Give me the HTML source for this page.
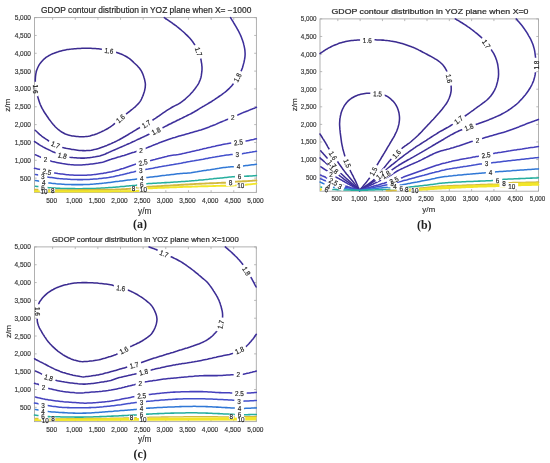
<!DOCTYPE html>
<html><head><meta charset="utf-8"><style>
html,body{margin:0;padding:0;background:#fff;}
svg{display:block;}
.cl{text-rendering:geometricPrecision;font-family:"Liberation Sans",sans-serif;fill:#262626;stroke:#262626;stroke-width:0.18px;}
</style></head><body>
<svg width="550" height="463" viewBox="0 0 550 463">
<rect width="550" height="463" fill="#fff"/>
<rect x="34.5" y="17.6" width="221.90" height="174.80" fill="none" stroke="#a8a8a8" stroke-width="0.9"/>
<path d="M52.61,192.4v-2.2M52.61,17.6v2.2M34.5,178.13h2.2M256.4,178.13h-2.2M75.26,192.4v-2.2M75.26,17.6v2.2M34.5,160.29h2.2M256.4,160.29h-2.2M97.90,192.4v-2.2M97.90,17.6v2.2M34.5,142.46h2.2M256.4,142.46h-2.2M120.54,192.4v-2.2M120.54,17.6v2.2M34.5,124.62h2.2M256.4,124.62h-2.2M143.19,192.4v-2.2M143.19,17.6v2.2M34.5,106.78h2.2M256.4,106.78h-2.2M165.83,192.4v-2.2M165.83,17.6v2.2M34.5,88.95h2.2M256.4,88.95h-2.2M188.47,192.4v-2.2M188.47,17.6v2.2M34.5,71.11h2.2M256.4,71.11h-2.2M211.11,192.4v-2.2M211.11,17.6v2.2M34.5,53.27h2.2M256.4,53.27h-2.2M233.76,192.4v-2.2M233.76,17.6v2.2M34.5,35.44h2.2M256.4,35.44h-2.2M256.40,192.4v-2.2M256.40,17.6v2.2M34.5,17.60h2.2M256.4,17.60h-2.2" stroke="#a8a8a8" stroke-width="0.8" fill="none"/>
<mask id="mA" maskUnits="userSpaceOnUse" x="0" y="0" width="550" height="463"><rect width="550" height="463" fill="#fff"/><rect x="101.77" y="47.56" width="14.46" height="6.48" transform="rotate(8 109.00 50.80)" fill="#000"/><rect x="113.27" y="115.36" width="14.46" height="6.48" transform="rotate(-40 120.50 118.60)" fill="#000"/><rect x="27.97" y="85.76" width="14.46" height="6.48" transform="rotate(90 35.20 89.00)" fill="#000"/><rect x="191.37" y="48.36" width="14.46" height="6.48" transform="rotate(72 198.60 51.60)" fill="#000"/><rect x="139.07" y="120.76" width="14.46" height="6.48" transform="rotate(-30 146.30 124.00)" fill="#000"/><rect x="48.27" y="141.46" width="14.46" height="6.48" transform="rotate(22 55.50 144.70)" fill="#000"/><rect x="230.37" y="74.36" width="14.46" height="6.48" transform="rotate(-62 237.60 77.60)" fill="#000"/><rect x="148.77" y="127.86" width="14.46" height="6.48" transform="rotate(-25 156.00 131.10)" fill="#000"/><rect x="55.17" y="152.36" width="14.46" height="6.48" transform="rotate(12 62.40 155.60)" fill="#000"/><rect x="228.14" y="113.96" width="9.13" height="6.48" transform="rotate(0 232.70 117.20)" fill="#000"/><rect x="136.54" y="147.26" width="9.13" height="6.48" transform="rotate(0 141.10 150.50)" fill="#000"/><rect x="41.04" y="155.96" width="9.13" height="6.48" transform="rotate(0 45.60 159.20)" fill="#000"/><rect x="231.17" y="139.06" width="14.46" height="6.48" transform="rotate(-8 238.40 142.30)" fill="#000"/><rect x="135.77" y="159.26" width="14.46" height="6.48" transform="rotate(-12 143.00 162.50)" fill="#000"/><rect x="39.77" y="168.46" width="14.46" height="6.48" transform="rotate(12 47.00 171.70)" fill="#000"/><rect x="232.74" y="151.26" width="9.13" height="6.48" transform="rotate(0 237.30 154.50)" fill="#000"/><rect x="136.14" y="167.26" width="9.13" height="6.48" transform="rotate(0 140.70 170.50)" fill="#000"/><rect x="38.14" y="173.06" width="9.13" height="6.48" transform="rotate(0 42.70 176.30)" fill="#000"/><rect x="233.84" y="163.36" width="9.13" height="6.48" transform="rotate(0 238.40 166.60)" fill="#000"/><rect x="137.14" y="175.16" width="9.13" height="6.48" transform="rotate(0 141.70 178.40)" fill="#000"/><rect x="39.14" y="179.16" width="9.13" height="6.48" transform="rotate(0 43.70 182.40)" fill="#000"/><rect x="234.94" y="173.36" width="9.13" height="6.48" transform="rotate(0 239.50 176.60)" fill="#000"/><rect x="137.14" y="181.06" width="9.13" height="6.48" transform="rotate(0 141.70 184.30)" fill="#000"/><rect x="38.44" y="183.96" width="9.13" height="6.48" transform="rotate(0 43.00 187.20)" fill="#000"/><rect x="225.94" y="179.26" width="9.13" height="6.48" transform="rotate(-5 230.50 182.50)" fill="#000"/><rect x="131.24" y="186.17" width="4.73" height="4.46" transform="rotate(0 133.60 188.40)" fill="#000"/><rect x="50.34" y="188.07" width="4.73" height="4.46" transform="rotate(0 52.70 190.30)" fill="#000"/><rect x="236.57" y="183.07" width="8.26" height="4.46" transform="rotate(0 240.70 185.30)" fill="#000"/><rect x="139.27" y="187.37" width="8.26" height="4.46" transform="rotate(0 143.40 189.60)" fill="#000"/><rect x="39.87" y="189.37" width="8.26" height="4.46" transform="rotate(0 44.00 191.60)" fill="#000"/></mask>
<g mask="url(#mA)"><path d="M35.3,84.0 35.3,82.5 35.3,81.0 35.3,79.5 35.4,78.0 35.5,76.5 35.7,75.0 35.9,73.5 36.2,72.1 36.6,70.6 37.1,69.2 37.7,67.8 38.3,66.5 39.0,65.1 39.8,63.9 40.7,62.7 41.7,61.5 42.7,60.4 43.7,59.3 44.9,58.4 46.0,57.4 47.3,56.6 48.6,55.8 49.9,55.1 51.2,54.4 52.6,53.8 54.0,53.3 55.4,52.7 56.8,52.2 58.2,51.8 59.7,51.3 61.1,50.9 62.5,50.5 64.0,50.2 65.5,49.9 67.0,49.6 68.4,49.4 69.9,49.2 71.4,49.1 72.9,48.9 74.4,48.8 75.9,48.7 77.4,48.6 78.9,48.5 80.4,48.4 81.9,48.3 83.4,48.3 84.9,48.2 86.4,48.2 87.9,48.2 89.4,48.2 90.9,48.3 92.4,48.4 93.9,48.5 95.4,48.6 96.9,48.7 98.4,48.8 99.9,49.0 101.4,49.2 102.8,49.4 104.3,49.7 105.8,50.1 107.2,50.4 108.7,50.7 110.2,51.0 111.6,51.3 113.1,51.6 114.6,51.9 116.0,52.3 117.5,52.7 118.9,53.2 120.3,53.8 121.7,54.3 123.0,54.9 124.4,55.6 125.7,56.3 127.0,57.0 128.3,57.9 129.5,58.7 130.7,59.7 131.8,60.6 132.9,61.6 134.0,62.7 135.1,63.7 136.2,64.7 137.3,65.8 138.3,66.9 139.3,68.0 140.2,69.2 141.0,70.4 141.7,71.7 142.4,73.1 143.0,74.5 143.5,75.9 143.9,77.3 144.4,78.8 144.7,80.2 145.0,81.7 145.3,83.2 145.4,84.6 145.3,86.1 145.2,87.6 144.9,89.1 144.6,90.6 144.2,92.0 143.7,93.4 143.3,94.9 142.7,96.3 142.1,97.6 141.5,99.0 140.8,100.3 140.0,101.6 139.1,102.8 138.1,103.9 137.0,105.0 136.0,106.0 134.9,107.1 133.7,108.0 132.6,109.0 131.4,109.9 130.2,110.9 129.0,111.8 127.9,112.7 126.7,113.6 125.5,114.6 124.3,115.5 123.2,116.4 122.0,117.4 120.8,118.3 119.7,119.3 118.5,120.3 117.4,121.3 116.3,122.2 115.1,123.2 114.0,124.1 112.8,125.1 111.6,126.0 110.4,126.9 109.1,127.7 107.8,128.5 106.5,129.2 105.2,129.9 103.9,130.6 102.5,131.2 101.2,131.9 99.8,132.5 98.4,133.1 97.0,133.7 95.6,134.2 94.2,134.7 92.8,135.1 91.3,135.5 89.9,135.9 88.4,136.2 86.9,136.4 85.4,136.6 83.9,136.7 82.4,136.8 80.9,136.8 79.4,136.7 77.9,136.6 76.4,136.5 75.0,136.3 73.5,136.1 72.0,135.9 70.5,135.6 69.1,135.2 67.6,134.8 66.2,134.3 64.8,133.7 63.5,133.0 62.2,132.3 60.9,131.5 59.7,130.6 58.5,129.7 57.4,128.7 56.3,127.7 55.2,126.7 54.2,125.6 53.2,124.5 52.2,123.3 51.3,122.1 50.4,120.9 49.5,119.7 48.6,118.5 47.8,117.3 46.9,116.0 46.1,114.8 45.2,113.5 44.4,112.3 43.6,111.0 42.9,109.7 42.1,108.4 41.5,107.1 40.8,105.7 40.2,104.3 39.7,102.9 39.2,101.5 38.7,100.1 38.3,98.6 37.9,97.2 37.5,95.8 37.1,94.3 36.7,92.9 36.3,91.4 36.0,89.9 35.7,88.5 35.5,87.0 35.4,85.5Z" fill="none" stroke="#3b2b90" stroke-width="1.55" stroke-linecap="round" stroke-linejoin="round"/>
<path d="M164.3,17.6 165.5,18.5 166.8,19.3 168.0,20.1 169.2,21.0 170.5,21.9 171.7,22.7 172.9,23.6 174.2,24.5 175.4,25.3 176.6,26.2 177.7,27.2 178.9,28.1 180.1,29.1 181.2,30.0 182.3,31.0 183.5,32.0 184.6,33.0 185.7,34.1 186.8,35.1 187.8,36.1 188.9,37.2 189.9,38.3 190.9,39.5 191.8,40.6 192.7,41.8 193.6,43.1 194.4,44.3 195.2,45.6 196.0,46.8 196.8,48.1 197.5,49.4 198.2,50.8 198.8,52.1 199.3,53.5 199.8,55.0 200.2,56.4 200.5,57.9 200.9,59.3 201.2,60.8 201.4,62.3 201.7,63.8 201.8,65.3 202.0,66.8 202.0,68.2 202.0,69.7 201.9,71.2 201.7,72.7 201.5,74.2 201.3,75.7 201.0,77.2 200.6,78.6 200.1,80.0 199.5,81.4 198.9,82.8 198.2,84.1 197.4,85.4 196.5,86.6 195.7,87.8 194.8,89.0 193.8,90.2 192.9,91.4 191.9,92.5 190.9,93.6 189.9,94.7 188.8,95.8 187.7,96.8 186.6,97.8 185.5,98.8 184.3,99.8 183.2,100.7 182.0,101.6 180.8,102.5 179.5,103.3 178.2,104.1 176.9,104.8 175.6,105.4 174.2,106.1 172.9,106.8 171.6,107.5 170.3,108.3 169.0,109.1 167.7,109.9 166.5,110.7 165.2,111.6 164.0,112.4 162.8,113.2 161.5,114.1 160.3,115.0 159.1,115.8 157.8,116.7 156.6,117.5 155.4,118.4 154.1,119.2 152.9,120.0 151.6,120.9 150.3,121.7 149.1,122.4 147.8,123.2 146.4,123.9 145.1,124.6 143.8,125.3 142.5,126.1 141.2,126.8 139.9,127.5 138.6,128.3 137.3,129.0 136.0,129.8 134.7,130.6 133.4,131.4 132.2,132.2 130.9,132.9 129.6,133.7 128.3,134.5 127.0,135.3 125.7,136.0 124.4,136.8 123.1,137.5 121.8,138.3 120.5,139.0 119.2,139.7 117.8,140.4 116.5,141.1 115.2,141.7 113.8,142.4 112.4,143.0 111.1,143.6 109.7,144.2 108.3,144.8 106.9,145.4 105.5,145.9 104.1,146.5 102.7,147.0 101.3,147.5 99.9,148.0 98.5,148.5 97.0,148.9 95.6,149.3 94.1,149.6 92.7,149.9 91.2,150.2 89.7,150.4 88.2,150.5 86.7,150.6 85.2,150.7 83.7,150.6 82.2,150.6 80.7,150.5 79.2,150.4 77.7,150.2 76.2,150.0 74.8,149.8 73.3,149.6 71.8,149.4 70.3,149.1 68.8,148.8 67.4,148.6 65.9,148.3 64.4,147.9 63.0,147.6 61.5,147.2 60.1,146.7 58.7,146.2 57.3,145.6 56.0,144.9 54.6,144.2 53.3,143.5 52.0,142.8 50.7,142.0 49.4,141.3 48.1,140.5 46.9,139.7 45.6,138.9 44.4,138.0 43.1,137.2 41.9,136.3 40.8,135.3 39.6,134.4 38.5,133.4 37.4,132.3 36.3,131.3 35.2,130.3" fill="none" stroke="#3c2d95" stroke-width="1.55" stroke-linecap="round" stroke-linejoin="round"/>
<path d="M230.5,17.6 231.3,18.9 232.1,20.2 232.9,21.4 233.6,22.7 234.4,24.0 235.2,25.3 236.0,26.6 236.7,27.9 237.4,29.2 238.2,30.5 238.9,31.8 239.5,33.2 240.2,34.5 240.8,35.9 241.4,37.3 241.9,38.7 242.4,40.1 242.9,41.5 243.4,42.9 243.7,44.4 244.1,45.9 244.4,47.3 244.7,48.8 244.9,50.3 245.0,51.8 245.1,53.3 245.1,54.8 245.0,56.3 244.8,57.8 244.6,59.2 244.3,60.7 244.0,62.2 243.6,63.6 243.2,65.1 242.8,66.5 242.4,68.0 241.8,69.4 241.3,70.7 240.6,72.1 240.0,73.4 239.2,74.8 238.5,76.1 237.7,77.4 237.0,78.6 236.2,79.9 235.3,81.2 234.4,82.4 233.5,83.6 232.6,84.7 231.6,85.9 230.6,87.0 229.6,88.1 228.5,89.1 227.4,90.1 226.3,91.1 225.1,92.1 223.9,93.0 222.7,93.9 221.5,94.8 220.3,95.6 219.0,96.5 217.8,97.3 216.6,98.2 215.3,99.0 214.1,99.9 212.8,100.7 211.6,101.5 210.3,102.3 209.0,103.0 207.7,103.8 206.4,104.6 205.1,105.3 203.8,106.1 202.5,106.8 201.2,107.6 199.9,108.4 198.7,109.2 197.4,110.0 196.1,110.8 194.8,111.5 193.5,112.3 192.2,113.0 190.9,113.7 189.5,114.4 188.2,115.0 186.8,115.7 185.5,116.4 184.2,117.0 182.8,117.7 181.5,118.4 180.1,119.0 178.8,119.7 177.4,120.3 176.1,121.0 174.7,121.7 173.4,122.3 172.0,123.0 170.7,123.7 169.3,124.3 168.0,125.0 166.7,125.7 165.3,126.4 164.0,127.1 162.7,127.8 161.3,128.5 160.0,129.2 158.7,129.8 157.3,130.5 156.0,131.1 154.6,131.7 153.2,132.4 151.8,133.0 150.5,133.6 149.1,134.2 147.8,134.8 146.4,135.5 145.0,136.1 143.7,136.8 142.3,137.4 141.0,138.0 139.6,138.7 138.2,139.3 136.9,139.9 135.5,140.6 134.2,141.2 132.8,141.8 131.4,142.5 130.1,143.1 128.7,143.7 127.3,144.3 126.0,144.9 124.6,145.5 123.2,146.1 121.8,146.7 120.5,147.3 119.1,147.9 117.7,148.5 116.3,149.1 114.9,149.7 113.6,150.3 112.2,150.9 110.8,151.5 109.4,152.1 108.1,152.7 106.7,153.3 105.4,154.0 104.0,154.6 102.6,155.1 101.1,155.5 99.7,155.9 98.2,156.2 96.7,156.5 95.3,156.8 93.8,157.0 92.3,157.3 90.8,157.5 89.3,157.7 87.8,157.8 86.3,158.0 84.8,158.1 83.3,158.1 81.8,158.1 80.3,158.1 78.8,158.0 77.3,158.0 75.9,157.8 74.4,157.7 72.9,157.6 71.4,157.4 69.9,157.3 68.4,157.1 66.9,156.8 65.4,156.5 64.0,156.1 62.6,155.6 61.2,155.1 59.8,154.6 58.4,154.1 57.0,153.5 55.6,152.9 54.2,152.3 52.8,151.7 51.5,151.1 50.1,150.4 48.8,149.8 47.4,149.1 46.1,148.5 44.7,147.8 43.4,147.1 42.1,146.3 40.8,145.6 39.5,144.8 38.3,144.0 37.0,143.1 35.8,142.3 34.5,141.5" fill="none" stroke="#3d2f9a" stroke-width="1.55" stroke-linecap="round" stroke-linejoin="round"/>
<path d="M256.4,107.3 255.0,107.9 253.6,108.4 252.2,109.0 250.8,109.5 249.4,110.1 248.0,110.7 246.7,111.2 245.3,111.8 243.9,112.3 242.5,112.9 241.1,113.5 239.7,114.1 238.3,114.7 237.0,115.3 235.6,115.9 234.2,116.5 232.9,117.1 231.5,117.7 230.1,118.3 228.7,118.9 227.3,119.4 225.9,120.0 224.5,120.6 223.2,121.1 221.8,121.7 220.4,122.3 219.0,122.9 217.6,123.5 216.3,124.1 214.9,124.7 213.5,125.2 212.1,125.8 210.7,126.3 209.3,126.9 207.9,127.4 206.5,127.9 205.1,128.4 203.7,128.9 202.2,129.4 200.8,129.9 199.4,130.3 197.9,130.8 196.5,131.2 195.1,131.6 193.6,132.0 192.2,132.4 190.7,132.8 189.3,133.3 187.8,133.7 186.4,134.1 185.0,134.5 183.5,134.9 182.1,135.3 180.6,135.7 179.2,136.1 177.7,136.5 176.3,136.9 174.9,137.4 173.4,137.8 172.0,138.3 170.6,138.7 169.1,139.2 167.7,139.7 166.3,140.2 164.9,140.7 163.5,141.2 162.1,141.7 160.7,142.3 159.3,142.8 157.9,143.4 156.5,143.9 155.1,144.5 153.7,145.0 152.3,145.6 150.9,146.2 149.5,146.7 148.2,147.3 146.8,147.9 145.4,148.5 144.0,149.0 142.6,149.6 141.3,150.2 139.9,150.6 138.4,150.9 137.0,151.3 135.5,151.7 134.1,152.2 132.7,152.6 131.2,153.1 129.8,153.5 128.4,154.0 126.9,154.5 125.5,154.9 124.1,155.4 122.7,155.8 121.2,156.2 119.8,156.7 118.3,157.1 116.9,157.5 115.5,158.0 114.0,158.4 112.6,158.8 111.2,159.3 109.7,159.7 108.3,160.2 106.9,160.7 105.5,161.3 104.1,161.8 102.6,162.2 101.2,162.5 99.7,162.8 98.2,163.1 96.8,163.3 95.3,163.5 93.8,163.7 92.3,163.9 90.8,164.1 89.3,164.3 87.8,164.5 86.3,164.6 84.8,164.7 83.3,164.8 81.8,164.9 80.3,164.9 78.8,165.0 77.3,165.0 75.8,164.9 74.3,164.9 72.8,164.8 71.4,164.7 69.9,164.6 68.4,164.4 66.9,164.2 65.4,164.0 63.9,163.8 62.4,163.6 60.9,163.3 59.5,163.0 58.0,162.7 56.5,162.4 55.1,162.1 53.6,161.7 52.2,161.4 50.7,161.0 49.3,160.5 47.9,160.0 46.5,159.5 45.0,159.0 43.7,158.4 42.3,157.8 40.9,157.2 39.5,156.6 38.2,156.0 36.8,155.4 35.4,154.8" fill="none" stroke="#3f33a5" stroke-width="1.55" stroke-linecap="round" stroke-linejoin="round"/>
<path d="M256.4,138.8 254.9,139.1 253.5,139.5 252.0,139.8 250.5,140.1 249.1,140.4 247.6,140.7 246.1,141.0 244.6,141.3 243.2,141.5 241.7,141.8 240.2,142.0 238.7,142.2 237.2,142.4 235.7,142.6 234.2,142.7 232.7,142.8 231.2,143.0 229.7,143.2 228.3,143.4 226.8,143.7 225.3,143.9 223.8,144.2 222.4,144.6 220.9,144.9 219.4,145.2 218.0,145.5 216.5,145.8 215.0,146.2 213.6,146.5 212.1,146.8 210.6,147.2 209.2,147.5 207.7,147.8 206.2,148.2 204.8,148.5 203.3,148.8 201.9,149.2 200.4,149.5 198.9,149.9 197.5,150.2 196.0,150.6 194.5,150.9 193.1,151.2 191.6,151.6 190.2,151.9 188.7,152.3 187.2,152.6 185.8,152.9 184.3,153.3 182.8,153.6 181.4,153.9 179.9,154.2 178.4,154.5 176.9,154.7 175.4,154.9 174.0,155.1 172.5,155.3 171.0,155.5 169.5,155.8 168.0,156.1 166.6,156.5 165.1,156.8 163.7,157.2 162.2,157.6 160.8,157.9 159.3,158.3 157.8,158.7 156.4,159.1 154.9,159.5 153.5,159.8 152.0,160.2 150.6,160.6 149.1,160.9 147.7,161.3 146.2,161.7 144.7,162.1 143.3,162.4 141.8,162.7 140.4,163.0 138.9,163.3 137.4,163.7 136.0,164.0 134.5,164.5 133.1,164.9 131.7,165.4 130.2,165.9 128.8,166.4 127.4,166.9 126.0,167.4 124.6,167.9 123.2,168.4 121.7,168.8 120.3,169.3 118.9,169.8 117.4,170.2 116.0,170.6 114.5,171.0 113.1,171.3 111.6,171.7 110.1,172.0 108.7,172.3 107.2,172.6 105.7,172.9 104.2,173.1 102.8,173.4 101.3,173.6 99.8,173.8 98.3,174.0 96.8,174.2 95.3,174.4 93.8,174.6 92.3,174.7 90.8,174.9 89.3,175.0 87.8,175.1 86.3,175.2 84.8,175.2 83.3,175.3 81.8,175.3 80.3,175.3 78.8,175.3 77.3,175.3 75.8,175.3 74.3,175.2 72.8,175.1 71.3,175.0 69.8,174.9 68.3,174.8 66.8,174.7 65.3,174.5 63.9,174.3 62.4,174.1 60.9,173.9 59.4,173.7 57.9,173.5 56.4,173.2 54.9,173.0 53.5,172.8 52.0,172.6 50.5,172.4 49.0,172.1 47.5,171.8 46.1,171.4 44.6,171.0 43.2,170.5 41.8,170.0 40.4,169.6 38.9,169.2 37.4,168.9 36.0,168.6 34.5,168.3" fill="none" stroke="#4540bd" stroke-width="1.55" stroke-linecap="round" stroke-linejoin="round"/>
<path d="M256.4,151.3 254.9,151.6 253.4,151.8 252.0,152.1 250.5,152.3 249.0,152.6 247.5,152.8 246.0,153.1 244.6,153.3 243.1,153.6 241.6,153.9 240.1,154.1 238.6,154.3 237.1,154.5 235.6,154.5 234.1,154.5 232.6,154.5 231.1,154.6 229.6,154.7 228.1,154.9 226.7,155.1 225.2,155.3 223.7,155.6 222.2,155.8 220.7,156.0 219.2,156.3 217.8,156.5 216.3,156.8 214.8,157.1 213.3,157.3 211.8,157.6 210.4,157.8 208.9,158.1 207.4,158.4 205.9,158.6 204.4,158.9 203.0,159.2 201.5,159.4 200.0,159.7 198.5,160.0 197.0,160.2 195.6,160.5 194.1,160.8 192.6,161.0 191.1,161.3 189.7,161.6 188.2,161.8 186.7,162.1 185.2,162.4 183.7,162.6 182.3,162.9 180.8,163.2 179.3,163.4 177.8,163.7 176.3,163.9 174.9,164.2 173.4,164.5 171.9,164.7 170.4,165.0 168.9,165.3 167.5,165.5 166.0,165.8 164.5,166.0 163.0,166.3 161.5,166.6 160.1,166.8 158.6,167.1 157.1,167.4 155.6,167.6 154.1,167.9 152.7,168.2 151.2,168.4 149.7,168.7 148.2,169.0 146.8,169.2 145.3,169.5 143.8,169.8 142.3,170.1 140.9,170.4 139.4,170.7 137.9,170.9 136.4,171.2 135.0,171.5 133.5,171.9 132.0,172.2 130.6,172.6 129.1,173.0 127.7,173.3 126.2,173.7 124.8,174.1 123.3,174.4 121.8,174.8 120.4,175.1 118.9,175.5 117.4,175.8 116.0,176.1 114.5,176.4 113.0,176.7 111.5,176.9 110.1,177.2 108.6,177.5 107.1,177.7 105.6,177.9 104.1,178.1 102.6,178.3 101.1,178.5 99.6,178.6 98.1,178.8 96.6,178.9 95.2,179.0 93.7,179.1 92.2,179.2 90.7,179.3 89.2,179.4 87.6,179.4 86.1,179.5 84.6,179.5 83.1,179.6 81.6,179.6 80.1,179.6 78.6,179.6 77.1,179.6 75.6,179.5 74.1,179.5 72.6,179.4 71.1,179.4 69.6,179.3 68.1,179.2 66.6,179.1 65.1,179.0 63.6,178.9 62.1,178.8 60.6,178.7 59.1,178.6 57.6,178.4 56.1,178.2 54.7,178.0 53.2,177.8 51.7,177.6 50.2,177.4 48.7,177.2 47.2,177.0 45.7,176.8 44.2,176.6 42.8,176.3 41.3,175.9 39.9,175.5 38.4,175.1 37.0,174.8 35.5,174.5" fill="none" stroke="#4350cc" stroke-width="1.55" stroke-linecap="round" stroke-linejoin="round"/>
<path d="M256.4,164.3 254.9,164.5 253.4,164.7 251.9,164.8 250.4,165.0 248.9,165.2 247.5,165.4 246.0,165.6 244.5,165.8 243.0,166.0 241.5,166.2 240.0,166.4 238.5,166.6 237.0,166.6 235.5,166.7 234.0,166.7 232.5,166.7 231.0,166.8 229.5,166.9 228.1,167.1 226.6,167.2 225.1,167.4 223.6,167.6 222.1,167.8 220.6,168.0 219.1,168.3 217.7,168.5 216.2,168.7 214.7,169.0 213.2,169.2 211.7,169.4 210.2,169.7 208.8,169.9 207.3,170.1 205.8,170.4 204.3,170.6 202.8,170.8 201.3,171.1 199.9,171.3 198.4,171.5 196.9,171.8 195.4,172.0 193.9,172.2 192.4,172.4 191.0,172.7 189.5,172.9 188.0,173.0 186.5,173.2 185.0,173.2 183.5,173.3 182.0,173.4 180.5,173.5 179.0,173.7 177.5,173.8 176.0,174.0 174.6,174.2 173.1,174.4 171.6,174.5 170.1,174.7 168.6,174.9 167.1,175.1 165.6,175.3 164.1,175.4 162.6,175.6 161.1,175.8 159.7,176.0 158.2,176.2 156.7,176.4 155.2,176.5 153.7,176.7 152.2,176.9 150.7,177.1 149.2,177.3 147.7,177.5 146.3,177.6 144.8,177.8 143.4,178.0 142.2,178.3 141.1,178.5 139.8,178.6 138.4,178.8 136.9,179.0 135.4,179.2 133.9,179.4 132.4,179.6 130.9,179.7 129.5,179.9 128.0,180.1 126.5,180.3 125.0,180.5 123.5,180.7 122.0,180.9 120.5,181.1 119.0,181.3 117.5,181.4 116.1,181.6 114.6,181.8 113.1,182.0 111.6,182.2 110.1,182.4 108.6,182.5 107.1,182.7 105.6,182.9 104.1,183.1 102.6,183.2 101.1,183.4 99.7,183.5 98.2,183.7 96.7,183.8 95.2,183.9 93.7,184.1 92.2,184.2 90.7,184.3 89.2,184.4 87.7,184.4 86.2,184.5 84.7,184.5 83.2,184.6 81.7,184.6 80.2,184.6 78.7,184.6 77.2,184.6 75.7,184.6 74.2,184.6 72.7,184.6 71.2,184.6 69.7,184.5 68.2,184.5 66.7,184.4 65.2,184.4 63.7,184.3 62.2,184.2 60.7,184.1 59.2,184.0 57.7,183.9 56.2,183.8 54.7,183.6 53.2,183.4 51.7,183.3 50.2,183.1 48.7,182.9 47.3,182.8 45.8,182.6 44.3,182.4 42.8,182.1 41.4,181.7 39.9,181.4 38.4,181.1 37.0,180.8 35.5,180.6" fill="none" stroke="#3078d6" stroke-width="1.55" stroke-linecap="round" stroke-linejoin="round"/>
<path d="M256.4,175.6 254.9,175.7 253.4,175.8 251.9,175.9 250.4,176.0 248.9,176.1 247.4,176.1 245.9,176.2 244.4,176.3 242.9,176.4 241.4,176.5 239.9,176.6 238.4,176.6 236.9,176.6 235.4,176.6 233.9,176.7 232.4,176.8 230.9,177.0 229.4,177.1 227.9,177.2 226.4,177.4 224.9,177.5 223.5,177.7 222.0,177.9 220.5,178.0 219.0,178.2 217.5,178.3 216.0,178.5 214.5,178.6 213.0,178.8 211.5,178.9 210.0,179.1 208.5,179.3 207.0,179.4 205.5,179.6 204.0,179.7 202.6,179.9 201.1,180.0 199.6,180.1 198.1,180.3 196.6,180.4 195.1,180.6 193.6,180.7 192.1,180.8 190.6,180.9 189.1,181.1 187.6,181.2 186.1,181.3 184.6,181.4 183.1,181.5 181.6,181.6 180.1,181.7 178.6,181.8 177.1,181.9 175.6,182.0 174.1,182.1 172.6,182.2 171.1,182.3 169.6,182.4 168.1,182.5 166.6,182.6 165.1,182.6 163.6,182.7 162.1,182.8 160.6,182.9 159.1,183.0 157.6,183.1 156.1,183.2 154.6,183.3 153.1,183.3 151.6,183.4 150.1,183.5 148.6,183.6 147.1,183.7 145.7,183.8 144.2,183.9 142.8,184.0 141.9,184.2 141.2,184.5 140.2,184.8 138.8,185.0 137.3,185.1 135.8,185.3 134.3,185.4 132.8,185.5 131.3,185.7 129.8,185.8 128.4,186.0 126.9,186.1 125.4,186.2 123.9,186.4 122.4,186.5 120.9,186.6 119.4,186.8 117.9,186.9 116.4,187.0 114.9,187.2 113.4,187.3 111.9,187.4 110.4,187.5 108.9,187.6 107.4,187.7 105.9,187.8 104.4,187.9 102.9,188.0 101.4,188.1 99.9,188.2 98.4,188.3 96.9,188.3 95.4,188.4 93.9,188.4 92.4,188.5 90.9,188.5 89.4,188.6 87.9,188.6 86.4,188.6 84.9,188.6 83.4,188.6 81.9,188.7 80.4,188.7 78.9,188.7 77.4,188.7 75.9,188.7 74.4,188.6 72.9,188.6 71.4,188.6 69.9,188.6 68.4,188.6 66.9,188.6 65.4,188.5 63.9,188.5 62.4,188.5 60.9,188.4 59.4,188.3 57.9,188.3 56.4,188.2 54.9,188.1 53.4,188.0 51.9,187.9 50.4,187.8 48.9,187.7 47.4,187.6 45.9,187.5 44.4,187.4 42.9,187.2 41.4,187.0 40.0,186.8 38.5,186.6 37.0,186.4 35.5,186.2" fill="none" stroke="#26ae9e" stroke-width="1.55" stroke-linecap="round" stroke-linejoin="round"/>
<path d="M256.4,180.4 254.9,180.5 253.4,180.6 251.9,180.8 250.4,180.9 248.9,181.0 247.4,181.1 245.9,181.2 244.4,181.3 242.9,181.3 241.4,181.4 239.9,181.5 238.4,181.5 236.9,181.6 235.4,181.7 233.9,181.9 232.4,182.1 231.0,182.2 229.5,182.4 228.0,182.5 226.5,182.6 225.0,182.7 223.5,182.7 222.0,182.8 220.5,182.9 219.0,182.9 217.5,183.0 216.0,183.1 214.5,183.1 213.0,183.2 211.5,183.2 210.0,183.3 208.5,183.4 207.0,183.4 205.5,183.5 204.0,183.6 202.5,183.6 201.0,183.7 199.5,183.8 198.0,183.9 196.5,183.9 195.0,184.0 193.5,184.1 192.0,184.2 190.5,184.3 189.0,184.4 187.5,184.5 186.0,184.5 184.5,184.6 183.0,184.7 181.5,184.8 180.0,184.9 178.5,185.0 177.0,185.1 175.5,185.2 174.0,185.3 172.5,185.4 171.0,185.5 169.5,185.6 168.0,185.7 166.5,185.8 165.0,185.8 163.5,185.9 162.0,186.0 160.5,186.1 159.0,186.2 157.5,186.3 156.0,186.4 154.5,186.4 153.0,186.5 151.5,186.6 150.0,186.7 148.5,186.8 147.0,186.9 145.5,187.0 144.0,187.1 142.5,187.2 141.0,187.3 139.5,187.4 138.0,187.5 136.5,187.6 135.2,187.9 133.9,188.2 132.5,188.5 131.1,188.6 129.6,188.8 128.1,188.9 126.6,189.0 125.1,189.1 123.6,189.2 122.1,189.3 120.6,189.4 119.1,189.4 117.6,189.5 116.1,189.5 114.6,189.6 113.1,189.6 111.6,189.6 110.1,189.7 108.6,189.7 107.1,189.7 105.6,189.7 104.1,189.7 102.6,189.8 101.1,189.8 99.6,189.8 98.1,189.8 96.6,189.8 95.1,189.9 93.6,189.9 92.1,189.9 90.5,189.9 89.0,189.9 87.5,190.0 86.0,190.0 84.5,190.0 83.0,190.0 81.5,190.0 80.0,190.0 78.5,190.0 77.0,190.1 75.5,190.1 74.0,190.1 72.5,190.1 71.0,190.1 69.5,190.1 68.0,190.1 66.5,190.2 65.0,190.2 63.5,190.2 62.0,190.2 60.5,190.2 59.0,190.2 57.5,190.2 56.0,190.2 54.5,190.2 53.0,190.2 51.5,190.2 50.0,190.2 48.5,190.1 47.0,190.1 45.5,190.1 44.0,190.0 42.5,190.0 41.0,189.9 39.5,189.9 38.0,189.8 36.5,189.8 35.0,189.7" fill="none" stroke="#d2b940" stroke-width="1.9" stroke-linecap="round" stroke-linejoin="round"/>
<path d="M256.4,183.6 254.9,183.8 253.4,183.9 251.9,184.1 250.4,184.3 248.9,184.4 247.4,184.5 245.9,184.7 244.4,184.7 243.0,184.8 241.6,184.9 240.2,185.1 238.9,185.2 237.5,185.3 236.0,185.4 234.5,185.4 233.0,185.5 231.5,185.5 230.0,185.6 228.5,185.6 227.0,185.7 225.5,185.7 224.0,185.7 222.5,185.8 221.0,185.8 219.5,185.9 218.0,185.9 216.5,185.9 215.0,186.0 213.5,186.0 212.0,186.1 210.5,186.1 209.0,186.1 207.5,186.2 206.0,186.2 204.5,186.3 203.0,186.3 201.5,186.3 200.0,186.4 198.5,186.4 197.0,186.5 195.5,186.5 194.0,186.6 192.5,186.6 191.0,186.7 189.5,186.7 188.0,186.8 186.5,186.8 185.0,186.9 183.5,186.9 182.0,187.0 180.5,187.0 179.0,187.1 177.5,187.1 176.0,187.2 174.5,187.3 173.0,187.3 171.5,187.4 170.0,187.4 168.5,187.5 167.0,187.5 165.5,187.6 164.0,187.7 162.5,187.7 161.0,187.8 159.5,187.8 158.0,187.9 156.5,188.0 155.0,188.0 153.5,188.1 152.0,188.2 150.5,188.2 149.0,188.3 147.5,188.4 146.0,188.5 144.6,188.7 143.6,189.1 142.6,189.6 141.4,190.1 140.0,190.5 138.5,190.7 137.1,190.9 135.6,191.0 134.1,191.1 132.6,191.2 131.1,191.2 129.6,191.3 128.1,191.3 126.6,191.3 125.1,191.3 123.6,191.4 122.1,191.4 120.6,191.4 119.1,191.4 117.6,191.4 116.1,191.4 114.6,191.4 113.1,191.4 111.6,191.4 110.1,191.5 108.6,191.5 107.1,191.5 105.6,191.5 104.0,191.5 102.5,191.5 101.0,191.5 99.5,191.5 98.0,191.5 96.5,191.5 95.0,191.5 93.5,191.5 92.0,191.5 90.5,191.5 89.0,191.5 87.5,191.5 86.0,191.5 84.5,191.5 83.0,191.5 81.5,191.5 80.0,191.5 78.5,191.5 77.0,191.5 75.5,191.5 74.0,191.5 72.5,191.5 71.0,191.5 69.5,191.5 68.0,191.5 66.5,191.5 65.0,191.5 63.5,191.5 62.0,191.5 60.5,191.5 59.0,191.5 57.5,191.5 56.0,191.5 54.5,191.5 53.0,191.5 51.5,191.5 50.0,191.5 48.5,191.5 47.0,191.5 45.5,191.5 44.0,191.5 42.5,191.5 41.0,191.4 39.5,191.4 38.0,191.4 36.5,191.4 35.0,191.4" fill="none" stroke="#f2e629" stroke-width="1.9" stroke-linecap="round" stroke-linejoin="round"/>
<path d="M34.5,190.6 L140,190.6 L150,191.8 L34.5,191.8Z" fill="#f2e629"/></g>
<text x="109.00" y="53.39" transform="rotate(8 109.00 50.80)" text-anchor="middle" font-size="7.2" textLength="8.86" lengthAdjust="spacingAndGlyphs" class="cl">1.6</text><text x="120.50" y="121.19" transform="rotate(-40 120.50 118.60)" text-anchor="middle" font-size="7.2" textLength="8.86" lengthAdjust="spacingAndGlyphs" class="cl">1.6</text><text x="35.20" y="91.59" transform="rotate(90 35.20 89.00)" text-anchor="middle" font-size="7.2" textLength="8.86" lengthAdjust="spacingAndGlyphs" class="cl">1.6</text><text x="198.60" y="54.19" transform="rotate(72 198.60 51.60)" text-anchor="middle" font-size="7.2" textLength="8.86" lengthAdjust="spacingAndGlyphs" class="cl">1.7</text><text x="146.30" y="126.59" transform="rotate(-30 146.30 124.00)" text-anchor="middle" font-size="7.2" textLength="8.86" lengthAdjust="spacingAndGlyphs" class="cl">1.7</text><text x="55.50" y="147.29" transform="rotate(22 55.50 144.70)" text-anchor="middle" font-size="7.2" textLength="8.86" lengthAdjust="spacingAndGlyphs" class="cl">1.7</text><text x="237.60" y="80.19" transform="rotate(-62 237.60 77.60)" text-anchor="middle" font-size="7.2" textLength="8.86" lengthAdjust="spacingAndGlyphs" class="cl">1.8</text><text x="156.00" y="133.69" transform="rotate(-25 156.00 131.10)" text-anchor="middle" font-size="7.2" textLength="8.86" lengthAdjust="spacingAndGlyphs" class="cl">1.8</text><text x="62.40" y="158.19" transform="rotate(12 62.40 155.60)" text-anchor="middle" font-size="7.2" textLength="8.86" lengthAdjust="spacingAndGlyphs" class="cl">1.8</text><text x="232.70" y="119.79" transform="rotate(0 232.70 117.20)" text-anchor="middle" font-size="7.2" textLength="3.53" lengthAdjust="spacingAndGlyphs" class="cl">2</text><text x="141.10" y="153.09" transform="rotate(0 141.10 150.50)" text-anchor="middle" font-size="7.2" textLength="3.53" lengthAdjust="spacingAndGlyphs" class="cl">2</text><text x="45.60" y="161.79" transform="rotate(0 45.60 159.20)" text-anchor="middle" font-size="7.2" textLength="3.53" lengthAdjust="spacingAndGlyphs" class="cl">2</text><text x="238.40" y="144.89" transform="rotate(-8 238.40 142.30)" text-anchor="middle" font-size="7.2" textLength="8.86" lengthAdjust="spacingAndGlyphs" class="cl">2.5</text><text x="143.00" y="165.09" transform="rotate(-12 143.00 162.50)" text-anchor="middle" font-size="7.2" textLength="8.86" lengthAdjust="spacingAndGlyphs" class="cl">2.5</text><text x="47.00" y="174.29" transform="rotate(12 47.00 171.70)" text-anchor="middle" font-size="7.2" textLength="8.86" lengthAdjust="spacingAndGlyphs" class="cl">2.5</text><text x="237.30" y="157.09" transform="rotate(0 237.30 154.50)" text-anchor="middle" font-size="7.2" textLength="3.53" lengthAdjust="spacingAndGlyphs" class="cl">3</text><text x="140.70" y="173.09" transform="rotate(0 140.70 170.50)" text-anchor="middle" font-size="7.2" textLength="3.53" lengthAdjust="spacingAndGlyphs" class="cl">3</text><text x="42.70" y="178.89" transform="rotate(0 42.70 176.30)" text-anchor="middle" font-size="7.2" textLength="3.53" lengthAdjust="spacingAndGlyphs" class="cl">3</text><text x="238.40" y="169.19" transform="rotate(0 238.40 166.60)" text-anchor="middle" font-size="7.2" textLength="3.53" lengthAdjust="spacingAndGlyphs" class="cl">4</text><text x="141.70" y="180.99" transform="rotate(0 141.70 178.40)" text-anchor="middle" font-size="7.2" textLength="3.53" lengthAdjust="spacingAndGlyphs" class="cl">4</text><text x="43.70" y="184.99" transform="rotate(0 43.70 182.40)" text-anchor="middle" font-size="7.2" textLength="3.53" lengthAdjust="spacingAndGlyphs" class="cl">4</text><text x="239.50" y="179.19" transform="rotate(0 239.50 176.60)" text-anchor="middle" font-size="7.2" textLength="3.53" lengthAdjust="spacingAndGlyphs" class="cl">6</text><text x="141.70" y="186.89" transform="rotate(0 141.70 184.30)" text-anchor="middle" font-size="7.2" textLength="3.53" lengthAdjust="spacingAndGlyphs" class="cl">6</text><text x="43.00" y="189.79" transform="rotate(0 43.00 187.20)" text-anchor="middle" font-size="7.2" textLength="3.53" lengthAdjust="spacingAndGlyphs" class="cl">6</text><text x="230.50" y="185.09" transform="rotate(-5 230.50 182.50)" text-anchor="middle" font-size="7.2" textLength="3.53" lengthAdjust="spacingAndGlyphs" class="cl">8</text><text x="133.60" y="190.99" transform="rotate(0 133.60 188.40)" text-anchor="middle" font-size="7.2" textLength="3.53" lengthAdjust="spacingAndGlyphs" class="cl">8</text><text x="52.70" y="192.89" transform="rotate(0 52.70 190.30)" text-anchor="middle" font-size="7.2" textLength="3.53" lengthAdjust="spacingAndGlyphs" class="cl">8</text><text x="240.70" y="187.89" transform="rotate(0 240.70 185.30)" text-anchor="middle" font-size="7.2" textLength="7.06" lengthAdjust="spacingAndGlyphs" class="cl">10</text><text x="143.40" y="192.19" transform="rotate(0 143.40 189.60)" text-anchor="middle" font-size="7.2" textLength="7.06" lengthAdjust="spacingAndGlyphs" class="cl">10</text><text x="44.00" y="194.19" transform="rotate(0 44.00 191.60)" text-anchor="middle" font-size="7.2" textLength="7.06" lengthAdjust="spacingAndGlyphs" class="cl">10</text>
<g font-family="Liberation Sans, sans-serif" font-size="7.1" fill="#383838" stroke="#383838" stroke-width="0.18"><text x="51.61" y="202.60" text-anchor="middle" textLength="10.90" lengthAdjust="spacingAndGlyphs">500</text><text x="31.00" y="180.67" text-anchor="end" textLength="10.90" lengthAdjust="spacingAndGlyphs">500</text><text x="74.26" y="202.60" text-anchor="middle" textLength="16.34" lengthAdjust="spacingAndGlyphs">1,000</text><text x="31.00" y="162.84" text-anchor="end" textLength="16.34" lengthAdjust="spacingAndGlyphs">1,000</text><text x="96.90" y="202.60" text-anchor="middle" textLength="16.34" lengthAdjust="spacingAndGlyphs">1,500</text><text x="31.00" y="145.00" text-anchor="end" textLength="16.34" lengthAdjust="spacingAndGlyphs">1,500</text><text x="119.54" y="202.60" text-anchor="middle" textLength="16.34" lengthAdjust="spacingAndGlyphs">2,000</text><text x="31.00" y="127.16" text-anchor="end" textLength="16.34" lengthAdjust="spacingAndGlyphs">2,000</text><text x="142.19" y="202.60" text-anchor="middle" textLength="16.34" lengthAdjust="spacingAndGlyphs">2,500</text><text x="31.00" y="109.33" text-anchor="end" textLength="16.34" lengthAdjust="spacingAndGlyphs">2,500</text><text x="164.83" y="202.60" text-anchor="middle" textLength="16.34" lengthAdjust="spacingAndGlyphs">3,000</text><text x="31.00" y="91.49" text-anchor="end" textLength="16.34" lengthAdjust="spacingAndGlyphs">3,000</text><text x="187.47" y="202.60" text-anchor="middle" textLength="16.34" lengthAdjust="spacingAndGlyphs">3,500</text><text x="31.00" y="73.65" text-anchor="end" textLength="16.34" lengthAdjust="spacingAndGlyphs">3,500</text><text x="210.11" y="202.60" text-anchor="middle" textLength="16.34" lengthAdjust="spacingAndGlyphs">4,000</text><text x="31.00" y="55.82" text-anchor="end" textLength="16.34" lengthAdjust="spacingAndGlyphs">4,000</text><text x="232.76" y="202.60" text-anchor="middle" textLength="16.34" lengthAdjust="spacingAndGlyphs">4,500</text><text x="31.00" y="37.98" text-anchor="end" textLength="16.34" lengthAdjust="spacingAndGlyphs">4,500</text><text x="255.40" y="202.60" text-anchor="middle" textLength="16.34" lengthAdjust="spacingAndGlyphs">5,000</text><text x="31.00" y="20.14" text-anchor="end" textLength="16.34" lengthAdjust="spacingAndGlyphs">5,000</text></g>
<text x="146.2" y="13.1" font-family="Liberation Sans, sans-serif" font-size="8.4" fill="#2b2b2b" stroke="#2b2b2b" stroke-width="0.22" text-anchor="middle" textLength="210.3" lengthAdjust="spacingAndGlyphs">GDOP contour distribution in YOZ plane when X= −1000</text>
<text x="144.7" y="213.6" font-family="Liberation Sans, sans-serif" font-size="8.3" fill="#333" stroke="#333" stroke-width="0.15" text-anchor="middle">y/m</text>
<text transform="translate(10.1,105.3) rotate(-90)" font-family="Liberation Sans, sans-serif" font-size="8.1" fill="#333" stroke="#333" stroke-width="0.15" text-anchor="middle">z/m</text>
<text x="140" y="228" font-family="Liberation Serif, serif" font-weight="bold" font-size="12" fill="#222" text-anchor="middle">(a)</text>
<rect x="320.0" y="18.9" width="218.50" height="172.30" fill="none" stroke="#a8a8a8" stroke-width="0.9"/>
<path d="M337.84,191.2v-2.2M337.84,18.9v2.2M320.0,177.13h2.2M538.5,177.13h-2.2M360.13,191.2v-2.2M360.13,18.9v2.2M320.0,159.55h2.2M538.5,159.55h-2.2M382.43,191.2v-2.2M382.43,18.9v2.2M320.0,141.97h2.2M538.5,141.97h-2.2M404.72,191.2v-2.2M404.72,18.9v2.2M320.0,124.39h2.2M538.5,124.39h-2.2M427.02,191.2v-2.2M427.02,18.9v2.2M320.0,106.81h2.2M538.5,106.81h-2.2M449.32,191.2v-2.2M449.32,18.9v2.2M320.0,89.23h2.2M538.5,89.23h-2.2M471.61,191.2v-2.2M471.61,18.9v2.2M320.0,71.64h2.2M538.5,71.64h-2.2M493.91,191.2v-2.2M493.91,18.9v2.2M320.0,54.06h2.2M538.5,54.06h-2.2M516.20,191.2v-2.2M516.20,18.9v2.2M320.0,36.48h2.2M538.5,36.48h-2.2M538.50,191.2v-2.2M538.50,18.9v2.2M320.0,18.90h2.2M538.5,18.90h-2.2" stroke="#a8a8a8" stroke-width="0.8" fill="none"/>
<mask id="mB" maskUnits="userSpaceOnUse" x="0" y="0" width="550" height="463"><rect width="550" height="463" fill="#fff"/><rect x="360.07" y="36.76" width="14.46" height="6.48" transform="rotate(0 367.30 40.00)" fill="#000"/><rect x="441.97" y="75.26" width="14.46" height="6.48" transform="rotate(78 449.20 78.50)" fill="#000"/><rect x="389.37" y="150.76" width="14.46" height="6.48" transform="rotate(-48 396.60 154.00)" fill="#000"/><rect x="325.77" y="152.36" width="14.46" height="6.48" transform="rotate(57 333.00 155.60)" fill="#000"/><rect x="370.27" y="90.56" width="14.46" height="6.48" transform="rotate(3 377.50 93.80)" fill="#000"/><rect x="339.97" y="160.06" width="14.46" height="6.48" transform="rotate(68 347.20 163.30)" fill="#000"/><rect x="366.17" y="168.26" width="14.46" height="6.48" transform="rotate(-62 373.40 171.50)" fill="#000"/><rect x="479.17" y="40.76" width="14.46" height="6.48" transform="rotate(55 486.40 44.00)" fill="#000"/><rect x="451.37" y="116.76" width="14.46" height="6.48" transform="rotate(-35 458.60 120.00)" fill="#000"/><rect x="373.27" y="171.96" width="14.46" height="6.48" transform="rotate(-40 380.50 175.20)" fill="#000"/><rect x="324.77" y="160.96" width="14.46" height="6.48" transform="rotate(48 332.00 164.20)" fill="#000"/><rect x="528.77" y="61.76" width="14.46" height="6.48" transform="rotate(-90 536.00 65.00)" fill="#000"/><rect x="461.77" y="123.86" width="14.46" height="6.48" transform="rotate(-22 469.00 127.10)" fill="#000"/><rect x="378.77" y="171.36" width="14.46" height="6.48" transform="rotate(-35 386.00 174.60)" fill="#000"/><rect x="326.77" y="166.26" width="14.46" height="6.48" transform="rotate(42 334.00 169.50)" fill="#000"/><rect x="472.84" y="136.76" width="9.13" height="6.48" transform="rotate(0 477.40 140.00)" fill="#000"/><rect x="326.44" y="171.06" width="9.13" height="6.48" transform="rotate(0 331.00 174.30)" fill="#000"/><rect x="478.77" y="151.76" width="14.46" height="6.48" transform="rotate(-8 486.00 155.00)" fill="#000"/><rect x="386.77" y="176.96" width="14.46" height="6.48" transform="rotate(-25 394.00 180.20)" fill="#000"/><rect x="326.27" y="178.56" width="14.46" height="6.48" transform="rotate(28 333.50 181.80)" fill="#000"/><rect x="481.94" y="160.06" width="9.13" height="6.48" transform="rotate(0 486.50 163.30)" fill="#000"/><rect x="387.44" y="180.56" width="9.13" height="6.48" transform="rotate(0 392.00 183.80)" fill="#000"/><rect x="335.44" y="183.16" width="9.13" height="6.48" transform="rotate(25 340.00 186.40)" fill="#000"/><rect x="485.84" y="169.16" width="9.13" height="6.48" transform="rotate(0 490.40 172.40)" fill="#000"/><rect x="390.44" y="183.06" width="9.13" height="6.48" transform="rotate(0 395.00 186.30)" fill="#000"/><rect x="323.94" y="183.16" width="9.13" height="6.48" transform="rotate(20 328.50 186.40)" fill="#000"/><rect x="493.04" y="176.96" width="9.13" height="6.48" transform="rotate(0 497.60 180.20)" fill="#000"/><rect x="396.74" y="185.36" width="9.13" height="6.48" transform="rotate(0 401.30 188.60)" fill="#000"/><rect x="321.94" y="186.36" width="9.13" height="6.48" transform="rotate(10 326.50 189.60)" fill="#000"/><rect x="499.44" y="180.56" width="9.13" height="6.48" transform="rotate(0 504.00 183.80)" fill="#000"/><rect x="404.44" y="187.37" width="4.73" height="4.46" transform="rotate(0 406.80 189.60)" fill="#000"/><rect x="505.47" y="182.96" width="12.66" height="6.48" transform="rotate(0 511.80 186.20)" fill="#000"/><rect x="410.77" y="187.87" width="8.26" height="4.46" transform="rotate(0 414.90 190.10)" fill="#000"/></mask>
<g mask="url(#mB)"><path d="M320.0,53.6 321.2,52.7 322.5,51.9 323.7,51.0 325.0,50.2 326.2,49.4 327.5,48.7 328.8,47.9 330.2,47.2 331.5,46.5 332.8,45.9 334.2,45.3 335.6,44.7 337.0,44.2 338.4,43.6 339.8,43.1 341.3,42.7 342.7,42.3 344.1,41.9 345.6,41.5 347.1,41.2 348.6,41.0 350.0,40.8 351.5,40.6 353.0,40.4 354.5,40.3 356.0,40.2 357.5,40.1 359.0,40.0 360.5,40.0 362.0,40.0 363.5,40.0 365.0,40.0 366.5,40.0 368.0,40.0 369.5,39.9 371.0,39.9 372.5,39.8 374.0,39.8 375.5,39.8 377.0,39.9 378.5,39.9 380.0,40.0 381.5,40.1 383.0,40.1 384.5,40.3 386.0,40.4 387.5,40.6 389.0,40.7 390.5,41.0 391.9,41.2 393.4,41.5 394.9,41.8 396.4,42.1 397.8,42.4 399.3,42.8 400.7,43.2 402.2,43.6 403.6,44.0 405.1,44.4 406.5,44.9 407.9,45.4 409.3,45.9 410.7,46.4 412.1,47.0 413.5,47.5 414.9,48.1 416.2,48.8 417.6,49.4 418.9,50.1 420.3,50.8 421.6,51.5 422.9,52.2 424.3,52.9 425.6,53.6 426.9,54.3 428.2,55.0 429.6,55.7 430.9,56.4 432.2,57.1 433.5,57.9 434.8,58.7 436.1,59.4 437.3,60.2 438.6,61.1 439.8,62.0 440.9,63.0 442.0,64.0 443.0,65.1 443.9,66.3 444.8,67.5 445.6,68.8 446.3,70.1 446.9,71.5 447.4,72.9 447.9,74.3 448.4,75.7 448.8,77.2 449.2,78.6 449.7,80.0 450.1,81.5 450.5,82.9 450.9,84.4 451.1,85.9 451.2,87.4 451.2,88.8 451.2,90.3 451.0,91.8 450.7,93.3 450.4,94.8 449.9,96.2 449.4,97.6 448.8,99.0 448.2,100.3 447.5,101.7 446.7,103.0 445.9,104.2 445.0,105.4 444.1,106.6 443.2,107.8 442.3,109.0 441.3,110.2 440.4,111.3 439.4,112.5 438.4,113.6 437.4,114.7 436.4,115.8 435.4,116.9 434.4,118.1 433.4,119.2 432.3,120.3 431.3,121.3 430.3,122.4 429.3,123.5 428.2,124.6 427.2,125.7 426.2,126.8 425.1,127.9 424.1,129.0 423.1,130.1 422.1,131.2 421.1,132.3 420.0,133.4 418.9,134.4 417.9,135.5 416.8,136.5 415.7,137.5 414.6,138.5 413.4,139.5 412.3,140.5 411.2,141.5 410.0,142.5 408.8,143.4 407.6,144.2 406.4,145.1 405.1,145.9 403.9,146.8 402.7,147.7 401.6,148.7 400.6,149.8 399.5,150.9 398.5,152.0 397.5,153.1 396.4,154.1 395.3,155.2 394.2,156.2 393.1,157.2 392.0,158.3 391.0,159.3 390.0,160.5 389.0,161.6 388.1,162.8 387.1,163.9 386.2,165.1 385.3,166.3 384.3,167.4 383.4,168.6 382.4,169.8 381.5,170.9 380.5,172.1 379.6,173.3 378.6,174.4 377.6,175.5 376.6,176.7 375.7,177.8 374.6,178.9 373.6,180.0 372.6,181.1 371.5,182.1 370.3,183.1 369.2,184.0 368.0,184.9 366.8,185.8 365.5,186.6 364.3,187.5 363.0,188.3 361.7,189.1 360.4,189.9" fill="none" stroke="#3b2b90" stroke-width="1.55" stroke-linecap="round" stroke-linejoin="round"/>
<path d="M359.6,190.4 358.7,189.2 357.8,188.0 356.9,186.8 356.0,185.6 355.1,184.4 354.2,183.2 353.3,182.0 352.3,180.8 351.4,179.7 350.4,178.5 349.5,177.4 348.5,176.3 347.5,175.1 346.5,174.0 345.6,172.8 344.7,171.6 343.8,170.4 342.9,169.2 342.0,167.9 341.2,166.7 340.3,165.5 339.4,164.3 338.6,163.1 337.7,161.8 336.8,160.6 335.9,159.4 335.0,158.3 334.1,157.1 333.2,155.8 332.4,154.6 331.6,153.3 330.8,152.0 330.1,150.7 329.3,149.4 328.6,148.1 327.8,146.8 327.1,145.5 326.3,144.2 325.6,142.9 324.8,141.6 324.0,140.3 323.2,139.1 322.4,137.8 321.6,136.5 320.8,135.3 320.0,134.0" fill="none" stroke="#3b2b90" stroke-width="1.55" stroke-linecap="round" stroke-linejoin="round"/>
<path d="M359.6,190.4 359.0,189.0 358.4,187.6 357.8,186.3 357.2,184.9 356.6,183.5 356.0,182.1 355.4,180.8 354.7,179.4 354.0,178.1 353.4,176.7 352.7,175.4 352.0,174.1 351.3,172.7 350.6,171.4 350.0,170.0 349.4,168.7 348.8,167.3 348.2,165.9 347.7,164.5 347.1,163.1 346.6,161.7 346.1,160.3 345.7,158.8 345.2,157.4 344.8,155.9 344.4,154.5 344.0,153.1 343.6,151.6 343.2,150.2 342.8,148.7 342.5,147.2 342.2,145.8 341.9,144.3 341.6,142.8 341.4,141.3 341.2,139.8 341.0,138.4 340.8,136.9 340.6,135.4 340.4,133.9 340.2,132.4 340.1,130.9 339.9,129.4 339.8,127.9 339.7,126.4 339.6,124.9 339.6,123.4 339.7,121.9 339.8,120.4 339.9,118.9 340.2,117.4 340.4,116.0 340.8,114.5 341.1,113.0 341.6,111.6 342.1,110.2 342.7,108.8 343.4,107.5 344.1,106.2 344.9,104.9 345.8,103.7 346.7,102.5 347.7,101.4 348.8,100.4 350.0,99.4 351.2,98.5 352.4,97.7 353.7,97.0 355.1,96.3 356.4,95.7 357.8,95.1 359.3,94.7 360.7,94.3 362.2,94.0 363.7,93.7 365.1,93.5 366.6,93.3 368.1,93.2 369.6,93.2 371.1,93.2 372.6,93.3 374.1,93.4 375.6,93.6 377.1,93.8 378.6,94.0 380.1,94.2 381.6,94.4 383.0,94.7 384.5,95.1 385.9,95.7 387.2,96.4 388.4,97.2 389.7,98.1 390.8,99.0 391.9,100.1 393.0,101.1 394.0,102.2 394.9,103.4 395.7,104.7 396.5,106.0 397.2,107.3 397.7,108.7 398.2,110.1 398.6,111.5 399.0,113.0 399.2,114.5 399.4,116.0 399.5,117.5 399.5,119.0 399.4,120.5 399.2,122.0 399.0,123.4 398.7,124.9 398.3,126.4 397.9,127.8 397.4,129.2 396.9,130.6 396.3,132.0 395.6,133.4 395.0,134.7 394.3,136.1 393.6,137.4 392.8,138.7 392.0,140.0 391.3,141.2 390.5,142.5 389.7,143.8 389.0,145.1 388.2,146.4 387.4,147.7 386.7,149.0 385.9,150.3 385.1,151.6 384.4,152.9 383.6,154.2 382.8,155.5 382.0,156.7 381.3,158.0 380.5,159.3 379.7,160.6 378.9,161.9 378.2,163.2 377.4,164.5 376.6,165.8 375.9,167.1 375.2,168.4 374.4,169.7 373.7,171.0 372.9,172.3 372.2,173.6 371.4,174.9 370.7,176.2 369.9,177.5 369.0,178.7 368.1,179.9 367.2,181.1 366.3,182.3 365.3,183.4 364.4,184.6 363.4,185.8 362.5,186.9 361.5,188.1 360.6,189.2 359.6,190.4" fill="none" stroke="#3b2b90" stroke-width="1.55" stroke-linecap="round" stroke-linejoin="round"/>
<path d="M455.3,18.9 456.6,19.7 457.9,20.4 459.2,21.2 460.5,22.0 461.8,22.7 463.0,23.5 464.3,24.3 465.6,25.2 466.8,26.0 468.0,26.9 469.3,27.7 470.5,28.6 471.7,29.5 472.9,30.4 474.1,31.3 475.2,32.3 476.4,33.2 477.6,34.2 478.7,35.1 479.9,36.1 481.0,37.1 482.0,38.2 483.0,39.3 483.9,40.5 484.8,41.7 485.7,43.0 486.6,44.2 487.5,45.3 488.5,46.5 489.5,47.6 490.5,48.7 491.4,49.9 492.2,51.2 493.0,52.4 493.8,53.7 494.5,55.1 495.1,56.4 495.7,57.8 496.2,59.2 496.7,60.6 497.1,62.1 497.5,63.5 497.8,65.0 498.0,66.5 498.2,68.0 498.4,69.5 498.5,71.0 498.5,72.5 498.6,74.0 498.5,75.5 498.4,77.0 498.2,78.5 497.9,79.9 497.6,81.4 497.2,82.9 496.8,84.3 496.4,85.7 495.9,87.2 495.3,88.5 494.7,89.9 494.0,91.2 493.2,92.5 492.4,93.8 491.5,95.0 490.6,96.2 489.6,97.3 488.6,98.4 487.5,99.5 486.4,100.5 485.2,101.4 484.0,102.3 482.8,103.2 481.6,104.1 480.4,105.0 479.2,105.9 478.0,106.7 476.7,107.6 475.5,108.5 474.3,109.4 473.1,110.3 471.9,111.1 470.7,112.0 469.5,112.9 468.2,113.8 467.0,114.7 465.8,115.5 464.5,116.4 463.3,117.2 462.0,118.0 460.7,118.7 459.4,119.5 458.2,120.3 456.9,121.2 455.7,122.1 454.5,123.0 453.3,123.9 452.1,124.7 450.8,125.5 449.5,126.3 448.2,127.1 446.9,127.8 445.6,128.5 444.3,129.2 443.0,130.0 441.6,130.7 440.3,131.4 439.0,132.2 437.7,133.0 436.5,133.8 435.2,134.6 433.9,135.4 432.7,136.2 431.4,137.0 430.1,137.8 428.9,138.6 427.6,139.4 426.4,140.3 425.1,141.1 423.8,141.9 422.6,142.7 421.3,143.5 420.0,144.3 418.8,145.1 417.5,145.9 416.2,146.7 415.0,147.6 413.7,148.4 412.5,149.3 411.3,150.1 410.0,151.0 408.8,151.9 407.6,152.8 406.4,153.6 405.2,154.5 404.0,155.4 402.8,156.4 401.6,157.3 400.4,158.2 399.2,159.1 398.0,160.0 396.9,161.0 395.7,161.9 394.5,162.8 393.3,163.8 392.1,164.7 391.0,165.6 389.8,166.6 388.7,167.5 387.5,168.5 386.4,169.5 385.3,170.5 384.2,171.6 383.2,172.7 382.2,173.8 381.0,174.7 379.9,175.7 378.7,176.6 377.5,177.5 376.3,178.4 375.0,179.3 373.8,180.2 372.6,181.0 371.4,181.9 370.2,182.8 369.0,183.7 367.7,184.6 366.5,185.4 365.3,186.3 364.1,187.2 362.9,188.1 361.6,188.9 360.4,189.8" fill="none" stroke="#3c2d95" stroke-width="1.55" stroke-linecap="round" stroke-linejoin="round"/>
<path d="M359.6,190.4 358.5,189.4 357.4,188.4 356.3,187.4 355.1,186.4 354.0,185.4 352.9,184.3 351.8,183.3 350.7,182.3 349.6,181.3 348.5,180.3 347.4,179.3 346.2,178.3 345.1,177.3 344.0,176.2 342.9,175.2 341.8,174.2 340.7,173.2 339.6,172.1 338.6,171.1 337.5,170.1 336.4,169.0 335.4,167.9 334.4,166.8 333.3,165.7 332.3,164.6 331.4,163.4 330.5,162.2 329.5,161.0 328.6,159.9 327.7,158.7 326.7,157.6 325.7,156.4 324.7,155.3 323.7,154.2 322.7,153.1 321.7,152.0 320.7,150.8" fill="none" stroke="#3c2d95" stroke-width="1.55" stroke-linecap="round" stroke-linejoin="round"/>
<path d="M516.3,18.9 517.3,20.0 518.2,21.2 519.2,22.3 520.2,23.5 521.1,24.6 522.1,25.8 523.0,27.0 523.9,28.2 524.7,29.4 525.6,30.7 526.4,31.9 527.2,33.2 528.0,34.5 528.7,35.8 529.5,37.1 530.2,38.4 530.9,39.7 531.5,41.1 532.1,42.5 532.7,43.9 533.2,45.3 533.6,46.7 534.0,48.1 534.4,49.6 534.7,51.1 534.9,52.5 535.1,54.0 535.3,55.5 535.5,57.0 535.6,58.5 535.8,60.0 535.9,61.5 535.9,63.0 536.0,64.5 536.0,66.0 535.9,67.5 535.9,69.0 535.7,70.5 535.5,72.0 535.3,73.4 535.1,74.9 534.8,76.4 534.4,77.9 534.0,79.3 533.6,80.7 533.0,82.1 532.4,83.5 531.8,84.8 531.1,86.2 530.4,87.5 529.6,88.8 528.8,90.0 528.0,91.3 527.1,92.5 526.2,93.7 525.3,94.9 524.3,96.0 523.3,97.2 522.4,98.3 521.4,99.4 520.3,100.5 519.3,101.6 518.2,102.7 517.1,103.7 516.0,104.7 514.8,105.6 513.6,106.5 512.4,107.4 511.2,108.3 510.0,109.2 508.7,110.0 507.5,110.8 506.2,111.6 504.9,112.4 503.6,113.1 502.3,113.8 501.0,114.5 499.6,115.2 498.3,115.8 496.9,116.4 495.5,117.0 494.1,117.6 492.7,118.2 491.4,118.8 490.0,119.3 488.6,119.9 487.2,120.4 485.8,121.0 484.4,121.5 483.0,122.0 481.6,122.5 480.2,123.0 478.7,123.5 477.3,124.1 475.9,124.6 474.5,125.1 473.1,125.6 471.7,126.1 470.3,126.6 468.9,127.1 467.5,127.6 466.0,128.1 464.6,128.6 463.2,129.2 461.8,129.7 460.4,130.3 459.1,130.8 457.7,131.5 456.3,132.1 455.0,132.8 453.7,133.5 452.4,134.2 451.0,134.9 449.7,135.7 448.4,136.4 447.1,137.2 445.8,137.9 444.6,138.7 443.3,139.5 442.0,140.2 440.7,141.0 439.4,141.7 438.1,142.5 436.8,143.2 435.5,144.0 434.2,144.8 432.9,145.5 431.6,146.3 430.3,147.1 429.0,147.8 427.7,148.6 426.5,149.3 425.2,150.1 423.9,150.9 422.6,151.6 421.3,152.4 420.0,153.1 418.7,153.9 417.4,154.6 416.1,155.4 414.8,156.1 413.5,156.9 412.2,157.6 410.9,158.3 409.5,159.1 408.2,159.8 406.9,160.5 405.6,161.3 404.3,162.0 403.0,162.7 401.7,163.5 400.4,164.3 399.1,165.0 397.9,165.8 396.6,166.6 395.4,167.5 394.1,168.3 392.9,169.2 391.7,170.0 390.4,170.9 389.2,171.8 388.0,172.7 386.8,173.5 385.5,174.3 384.2,175.1 383.0,175.9 381.7,176.7 380.4,177.5 379.2,178.3 377.9,179.1 376.6,179.9 375.3,180.7 374.1,181.4 372.8,182.2 371.5,183.0 370.2,183.8 369.0,184.6 367.7,185.4 366.4,186.2 365.1,187.0 363.9,187.8 362.6,188.6 361.3,189.3 360.0,190.1" fill="none" stroke="#3d2f9a" stroke-width="1.55" stroke-linecap="round" stroke-linejoin="round"/>
<path d="M359.6,190.4 358.4,189.5 357.2,188.6 355.9,187.7 354.7,186.9 353.5,186.0 352.2,185.1 351.0,184.2 349.8,183.3 348.6,182.4 347.3,181.5 346.1,180.7 344.9,179.8 343.7,178.9 342.5,177.9 341.3,177.0 340.1,176.1 339.0,175.1 337.9,174.0 336.9,172.9 335.9,171.8 334.9,170.6 333.9,169.5 332.8,168.5 331.6,167.5 330.4,166.6 329.2,165.7 328.1,164.8 326.9,163.8 325.7,162.8 324.6,161.8 323.4,160.9 322.3,159.9 321.1,158.9 320.0,157.9" fill="none" stroke="#3d2f9a" stroke-width="1.55" stroke-linecap="round" stroke-linejoin="round"/>
<path d="M538.4,119.4 537.0,119.9 535.6,120.4 534.2,121.0 532.8,121.5 531.4,122.0 530.0,122.6 528.6,123.1 527.2,123.6 525.8,124.1 524.4,124.7 523.0,125.2 521.6,125.8 520.2,126.3 518.8,126.9 517.4,127.4 516.0,128.0 514.6,128.5 513.2,129.0 511.8,129.6 510.4,130.1 509.0,130.6 507.5,131.1 506.1,131.6 504.7,132.0 503.2,132.4 501.8,132.8 500.3,133.2 498.9,133.6 497.4,134.0 496.0,134.4 494.6,134.8 493.1,135.3 491.7,135.7 490.2,136.1 488.8,136.5 487.3,136.9 485.9,137.3 484.5,137.7 483.0,138.2 481.6,138.6 480.2,139.1 478.7,139.5 477.3,140.0 475.9,140.3 474.4,140.7 473.0,141.2 471.5,141.6 470.1,142.1 468.7,142.6 467.3,143.0 465.8,143.5 464.4,144.0 463.0,144.4 461.6,144.9 460.1,145.4 458.7,145.9 457.3,146.3 455.9,146.8 454.4,147.2 453.0,147.7 451.6,148.1 450.1,148.6 448.7,149.0 447.2,149.3 445.8,149.7 444.3,150.1 442.9,150.4 441.4,150.8 440.0,151.2 438.6,151.7 437.2,152.2 435.8,152.8 434.4,153.4 433.0,154.0 431.7,154.7 430.3,155.3 429.0,156.0 427.6,156.7 426.3,157.4 425.0,158.0 423.6,158.7 422.3,159.4 420.9,160.1 419.6,160.7 418.2,161.4 416.9,162.0 415.5,162.6 414.1,163.2 412.8,163.8 411.4,164.4 410.0,165.0 408.6,165.6 407.3,166.3 405.9,166.9 404.5,167.5 403.2,168.1 401.8,168.7 400.5,169.4 399.1,170.1 397.8,170.8 396.5,171.5 395.2,172.3 394.0,173.1 392.7,173.9 391.4,174.8 390.2,175.6 388.9,176.3 387.6,177.0 386.2,177.7 384.9,178.3 383.5,179.0 382.2,179.6 380.8,180.3 379.5,180.9 378.1,181.6 376.8,182.2 375.4,182.9 374.1,183.5 372.7,184.2 371.3,184.8 370.0,185.5 368.6,186.1 367.3,186.7 365.9,187.4 364.6,188.0 363.2,188.7 361.9,189.3 360.5,190.0" fill="none" stroke="#3f33a5" stroke-width="1.55" stroke-linecap="round" stroke-linejoin="round"/>
<path d="M359.6,190.4 358.3,189.7 357.0,188.9 355.6,188.2 354.3,187.4 353.0,186.7 351.7,185.9 350.4,185.2 349.1,184.4 347.7,183.7 346.4,182.9 345.1,182.2 343.8,181.4 342.5,180.7 341.2,179.9 339.8,179.2 338.5,178.4 337.2,177.7 335.9,177.0 334.5,176.2 333.2,175.5 331.9,174.8 330.6,173.9 329.5,173.0 328.3,172.0 327.2,171.0 325.9,170.1 324.7,169.3 323.4,168.5 322.1,167.6 320.9,166.8" fill="none" stroke="#3f33a5" stroke-width="1.55" stroke-linecap="round" stroke-linejoin="round"/>
<path d="M538.4,146.5 536.9,146.7 535.4,146.9 533.9,147.2 532.5,147.4 531.0,147.6 529.5,147.8 528.0,148.1 526.5,148.3 525.0,148.5 523.6,148.7 522.1,149.0 520.6,149.2 519.1,149.4 517.6,149.6 516.1,149.9 514.7,150.1 513.2,150.3 511.7,150.5 510.2,150.8 508.7,151.0 507.2,151.2 505.8,151.5 504.3,151.7 502.8,151.9 501.3,152.2 499.8,152.4 498.3,152.6 496.9,152.9 495.4,153.1 493.9,153.4 492.4,153.6 491.0,153.9 489.5,154.2 488.0,154.6 486.5,154.9 485.1,155.1 483.6,155.4 482.1,155.6 480.6,155.9 479.1,156.1 477.7,156.4 476.2,156.6 474.7,156.9 473.2,157.1 471.8,157.4 470.3,157.7 468.8,157.9 467.3,158.2 465.8,158.5 464.4,158.7 462.9,159.0 461.4,159.3 459.9,159.6 458.5,159.9 457.0,160.2 455.5,160.5 454.1,160.8 452.6,161.1 451.1,161.5 449.7,161.8 448.2,162.2 446.8,162.5 445.3,162.9 443.9,163.2 442.4,163.6 441.0,164.0 439.5,164.5 438.1,164.9 436.6,165.3 435.2,165.8 433.8,166.3 432.4,166.8 431.0,167.3 429.5,167.8 428.1,168.3 426.7,168.8 425.3,169.3 423.9,169.8 422.5,170.3 421.1,170.8 419.6,171.3 418.2,171.8 416.8,172.3 415.4,172.8 414.0,173.3 412.6,173.8 411.2,174.3 409.8,174.8 408.3,175.3 406.9,175.8 405.5,176.3 404.1,176.8 402.7,177.4 401.3,177.9 399.9,178.3 398.4,178.8 397.0,179.3 395.6,179.7 394.1,180.2 392.7,180.6 391.3,181.0 389.8,181.4 388.4,181.9 386.9,182.3 385.5,182.7 384.1,183.2 382.6,183.6 381.2,184.0 379.7,184.4 378.3,184.9 376.9,185.3 375.4,185.7 374.0,186.1 372.6,186.6 371.1,187.0 369.7,187.4 368.2,187.8 366.8,188.3 365.4,188.7 363.9,189.1 362.5,189.5 361.0,190.0 359.6,190.4" fill="none" stroke="#4540bd" stroke-width="1.55" stroke-linecap="round" stroke-linejoin="round"/>
<path d="M359.6,190.4 358.2,189.9 356.7,189.5 355.3,189.0 353.8,188.6 352.4,188.1 351.0,187.7 349.5,187.2 348.1,186.8 346.7,186.3 345.2,185.9 343.8,185.4 342.4,184.9 340.9,184.5 339.5,184.0 338.1,183.5 336.6,183.0 335.2,182.4 333.9,181.8 332.5,181.2 331.2,180.5 329.9,179.8 328.6,179.0 327.3,178.2 325.9,177.5 324.6,176.8 323.2,176.2 321.8,175.6 320.5,175.0" fill="none" stroke="#4540bd" stroke-width="1.55" stroke-linecap="round" stroke-linejoin="round"/>
<path d="M538.4,157.5 536.9,157.7 535.4,157.8 533.9,158.0 532.4,158.2 530.9,158.3 529.4,158.5 527.9,158.7 526.5,158.8 525.0,159.0 523.5,159.2 522.0,159.3 520.5,159.5 519.0,159.7 517.5,159.8 516.0,160.0 514.5,160.2 513.0,160.3 511.5,160.5 510.0,160.7 508.5,160.8 507.0,161.0 505.5,161.2 504.1,161.3 502.6,161.5 501.1,161.7 499.6,161.9 498.1,162.0 496.6,162.2 495.1,162.4 493.6,162.5 492.1,162.7 490.6,162.9 489.1,163.0 487.8,163.2 486.6,163.3 485.6,163.3 484.4,163.5 483.0,163.6 481.5,163.9 480.0,164.1 478.5,164.3 477.0,164.5 475.5,164.8 474.0,165.0 472.6,165.2 471.1,165.5 469.6,165.7 468.1,165.9 466.6,166.2 465.1,166.4 463.7,166.6 462.2,166.9 460.7,167.1 459.2,167.4 457.7,167.6 456.2,167.9 454.8,168.1 453.3,168.3 451.8,168.6 450.3,168.8 448.8,169.1 447.4,169.3 445.9,169.6 444.4,170.0 442.9,170.3 441.5,170.6 440.0,171.0 438.6,171.4 437.1,171.7 435.6,172.1 434.2,172.5 432.7,172.8 431.3,173.2 429.8,173.6 428.4,174.0 426.9,174.4 425.5,174.8 424.0,175.2 422.6,175.5 421.1,175.9 419.7,176.3 418.2,176.7 416.8,177.1 415.3,177.5 413.9,177.9 412.4,178.3 411.0,178.7 409.5,179.1 408.1,179.5 406.6,179.9 405.2,180.2 403.7,180.6 402.3,181.0 400.8,181.4 399.4,181.8 397.9,182.2 396.5,182.6 395.2,183.0 394.2,183.3 393.2,183.5 391.9,183.8 390.5,184.1 389.1,184.4 387.6,184.7 386.1,185.0 384.6,185.3 383.2,185.6 381.7,185.9 380.2,186.2 378.7,186.5 377.3,186.8 375.8,187.1 374.3,187.4 372.9,187.7 371.4,188.0 369.9,188.3 368.4,188.6 367.0,188.9 365.5,189.2 364.0,189.5 362.5,189.8 361.1,190.1 359.6,190.4" fill="none" stroke="#4350cc" stroke-width="1.55" stroke-linecap="round" stroke-linejoin="round"/>
<path d="M359.6,190.4 358.1,190.1 356.6,189.8 355.2,189.4 353.7,189.1 352.2,188.8 350.7,188.5 349.2,188.1 347.8,187.8 346.3,187.5 344.8,187.2 343.3,186.8 341.8,186.5 340.4,186.2 338.9,185.7 337.5,185.3 336.0,184.7 334.6,184.2 333.2,183.6 331.8,183.1 330.4,182.6 329.0,182.0 327.6,181.5 326.1,180.9 324.7,180.4 323.3,179.9 321.9,179.3 320.5,178.8" fill="none" stroke="#4350cc" stroke-width="1.55" stroke-linecap="round" stroke-linejoin="round"/>
<path d="M538.4,168.9 536.9,169.0 535.4,169.1 533.9,169.2 532.4,169.3 530.9,169.4 529.4,169.5 527.9,169.6 526.4,169.7 524.9,169.8 523.4,169.9 521.9,170.0 520.4,170.1 518.9,170.2 517.4,170.3 515.9,170.4 514.4,170.5 512.9,170.6 511.4,170.8 509.9,170.9 508.5,171.0 507.0,171.1 505.5,171.2 504.0,171.3 502.5,171.4 501.0,171.5 499.5,171.6 498.0,171.7 496.5,171.8 495.0,171.9 493.5,172.0 492.1,172.1 490.8,172.3 489.7,172.4 488.3,172.5 486.9,172.7 485.4,172.8 483.9,172.9 482.4,173.0 480.9,173.2 479.4,173.3 477.9,173.4 476.4,173.5 474.9,173.7 473.4,173.8 471.9,173.9 470.4,174.1 468.9,174.2 467.4,174.3 465.9,174.5 464.4,174.6 463.0,174.7 461.5,174.9 460.0,175.0 458.5,175.1 457.0,175.3 455.5,175.4 454.0,175.6 452.5,175.8 451.0,175.9 449.5,176.1 448.0,176.3 446.5,176.4 445.0,176.6 443.6,176.8 442.1,177.0 440.6,177.2 439.1,177.5 437.6,177.8 436.2,178.1 434.7,178.5 433.3,178.8 431.8,179.1 430.3,179.4 428.8,179.7 427.4,180.0 425.9,180.3 424.4,180.6 423.0,180.8 421.5,181.1 420.0,181.4 418.5,181.7 417.1,182.0 415.6,182.2 414.1,182.5 412.6,182.8 411.2,183.1 409.7,183.4 408.2,183.6 406.7,183.9 405.3,184.2 403.8,184.5 402.3,184.8 400.8,185.0 399.4,185.3 398.2,185.7 397.1,185.9 395.8,186.2 394.4,186.4 392.9,186.6 391.4,186.7 389.9,186.9 388.4,187.1 386.9,187.3 385.4,187.4 384.0,187.6 382.5,187.8 381.0,188.0 379.5,188.1 378.0,188.3 376.5,188.5 375.0,188.6 373.5,188.8 372.0,189.0 370.5,189.2 369.0,189.3 367.6,189.5 366.1,189.7 364.6,189.8 363.1,190.0 361.6,190.2 360.1,190.3" fill="none" stroke="#3078d6" stroke-width="1.55" stroke-linecap="round" stroke-linejoin="round"/>
<path d="M359.6,190.4 358.1,190.2 356.6,190.0 355.1,189.9 353.6,189.7 352.1,189.5 350.6,189.3 349.1,189.2 347.6,189.0 346.1,188.8 344.6,188.6 343.1,188.5 341.6,188.3 340.1,188.1 338.6,187.9 337.1,187.7 335.6,187.5 334.1,187.4 332.6,187.1 331.1,186.8 329.7,186.3 328.3,185.8 326.9,185.2 325.5,184.6 324.1,183.9 322.7,183.3 321.4,182.6 320.0,182.0" fill="none" stroke="#3078d6" stroke-width="1.55" stroke-linecap="round" stroke-linejoin="round"/>
<path d="M538.4,177.8 536.9,177.9 535.4,177.9 533.9,178.0 532.4,178.1 530.9,178.1 529.4,178.2 527.9,178.2 526.4,178.3 524.9,178.4 523.4,178.4 521.9,178.5 520.4,178.6 518.9,178.6 517.4,178.7 515.9,178.7 514.4,178.8 512.9,178.9 511.4,178.9 509.9,179.0 508.4,179.1 506.9,179.2 505.4,179.2 503.9,179.3 502.4,179.4 500.9,179.5 499.4,179.7 498.1,180.0 496.7,180.2 495.3,180.4 493.8,180.5 492.3,180.6 490.8,180.7 489.3,180.7 487.8,180.8 486.3,180.8 484.8,180.9 483.3,181.0 481.8,181.0 480.3,181.1 478.8,181.1 477.3,181.2 475.8,181.2 474.3,181.3 472.8,181.4 471.3,181.4 469.8,181.5 468.3,181.5 466.8,181.6 465.3,181.7 463.8,181.7 462.3,181.8 460.8,181.9 459.3,181.9 457.8,182.0 456.3,182.1 454.8,182.2 453.3,182.3 451.8,182.4 450.3,182.5 448.8,182.6 447.3,182.7 445.8,182.8 444.3,182.9 442.8,183.0 441.3,183.2 439.8,183.3 438.3,183.5 436.8,183.8 435.3,184.0 433.8,184.2 432.4,184.4 430.9,184.6 429.4,184.8 427.9,185.0 426.4,185.2 424.9,185.3 423.4,185.5 421.9,185.7 420.4,185.8 418.9,186.0 417.4,186.2 415.9,186.3 414.4,186.5 412.9,186.7 411.4,186.8 410.0,187.0 408.5,187.2 407.0,187.4 405.5,187.6 404.0,187.9 402.6,188.2 401.1,188.6 399.6,188.8 398.1,188.9 396.6,189.0 395.1,189.1 393.6,189.2 392.1,189.2 390.6,189.3 389.1,189.3 387.6,189.4 386.1,189.4 384.6,189.5 383.1,189.6 381.6,189.6 380.1,189.7 378.6,189.7 377.1,189.8 375.6,189.8 374.1,189.9 372.6,189.9 371.1,190.0 369.6,190.0 368.1,190.1 366.6,190.1 365.1,190.2 363.6,190.3 362.1,190.3 360.6,190.4" fill="none" stroke="#26ae9e" stroke-width="1.55" stroke-linecap="round" stroke-linejoin="round"/>
<path d="M359.6,190.4 358.1,190.3 356.6,190.3 355.1,190.2 353.6,190.2 352.1,190.1 350.6,190.1 349.1,190.0 347.6,190.0 346.1,189.9 344.6,189.9 343.0,189.8 341.5,189.8 340.0,189.7 338.5,189.7 337.0,189.6 335.5,189.6 334.0,189.5 332.5,189.5 331.0,189.4 329.5,189.4 328.0,189.3 326.6,189.0 325.2,188.6 323.7,188.1 322.3,187.5 320.9,187.0" fill="none" stroke="#26ae9e" stroke-width="1.55" stroke-linecap="round" stroke-linejoin="round"/>
<path d="M538.4,182.3 536.9,182.3 535.4,182.4 533.9,182.4 532.4,182.4 530.9,182.5 529.4,182.5 527.9,182.5 526.4,182.5 524.9,182.6 523.4,182.6 521.9,182.6 520.4,182.7 518.9,182.7 517.4,182.7 515.9,182.8 514.4,182.8 512.9,182.8 511.4,182.9 509.9,182.9 508.4,183.0 507.0,183.1 505.8,183.3 504.6,183.6 503.3,183.8 501.8,183.9 500.3,184.0 498.8,184.1 497.3,184.2 495.8,184.2 494.3,184.3 492.8,184.4 491.3,184.4 489.8,184.5 488.3,184.5 486.8,184.6 485.3,184.7 483.8,184.7 482.3,184.8 480.8,184.8 479.3,184.9 477.8,185.0 476.3,185.0 474.8,185.1 473.3,185.1 471.8,185.2 470.3,185.2 468.8,185.3 467.3,185.3 465.8,185.4 464.3,185.4 462.8,185.5 461.3,185.6 459.8,185.6 458.3,185.7 456.8,185.7 455.3,185.8 453.8,185.8 452.3,185.9 450.8,185.9 449.3,186.0 447.8,186.0 446.3,186.1 444.8,186.1 443.3,186.2 441.8,186.3 440.3,186.4 438.8,186.5 437.3,186.6 435.8,186.7 434.3,186.9 432.9,187.0 431.4,187.1 429.9,187.3 428.4,187.4 426.9,187.6 425.4,187.8 423.9,187.9 422.4,188.1 420.9,188.2 419.4,188.4 417.9,188.5 416.4,188.7 414.9,188.8 413.4,189.0 412.0,189.1 410.5,189.3 409.0,189.4 407.5,189.5 406.0,189.7 404.5,189.8 403.0,189.9 401.5,190.0 400.0,190.1 398.5,190.2 397.0,190.2 395.5,190.3 394.0,190.4 392.5,190.4 391.0,190.5 389.5,190.5 388.0,190.6 386.5,190.6" fill="none" stroke="#d2b940" stroke-width="1.9" stroke-linecap="round" stroke-linejoin="round"/>
<path d="M538.4,184.7 536.9,184.7 535.4,184.8 533.9,184.8 532.4,184.8 530.9,184.9 529.4,184.9 527.9,184.9 526.4,185.0 524.9,185.0 523.4,185.1 521.9,185.1 520.4,185.2 518.9,185.2 517.4,185.3 515.9,185.5 514.4,185.7 513.0,186.0 511.5,186.2 510.0,186.2 508.5,186.2 507.0,186.2 505.5,186.2 504.0,186.2 502.5,186.2 501.0,186.2 499.5,186.1 498.0,186.1 496.5,186.1 495.0,186.2 493.5,186.2 492.0,186.2 490.5,186.2 489.0,186.3 487.5,186.3 486.0,186.4 484.5,186.4 483.0,186.5 481.5,186.5 480.0,186.6 478.5,186.6 477.0,186.7 475.5,186.8 474.0,186.8 472.5,186.9 471.0,186.9 469.5,187.0 468.0,187.1 466.5,187.1 465.0,187.2 463.5,187.2 462.0,187.3 460.5,187.4 459.0,187.4 457.5,187.5 456.0,187.6 454.5,187.7 453.0,187.7 451.5,187.8 450.0,187.9 448.5,188.0 447.0,188.1 445.5,188.2 444.0,188.3 442.5,188.3 441.0,188.4 439.5,188.5 438.0,188.6 436.5,188.7 435.0,188.8 433.5,188.9 432.0,189.0 430.5,189.1 429.0,189.2 427.5,189.3 426.0,189.4 424.5,189.5 423.0,189.6 421.5,189.7 420.0,189.8 418.5,189.9 417.0,190.0 415.5,190.1 414.0,190.1 412.5,190.2 411.0,190.3 409.5,190.4 408.0,190.4 406.5,190.5 405.0,190.6" fill="none" stroke="#f2e629" stroke-width="2.0" stroke-linecap="round" stroke-linejoin="round"/>
<path d="M320,188.2 L330,189.8 L320,190.8Z" fill="#f2e629"/>
<path d="M538.4,182.3 537.4,182.3 536.4,182.3 535.4,182.4 534.4,182.4 533.4,182.4 532.4,182.4 531.4,182.4 530.4,182.5 529.4,182.5 528.4,182.5 527.4,182.5 526.4,182.5 525.4,182.6 524.4,182.6 523.4,182.6 522.3,182.6 521.3,182.6 520.3,182.7 519.3,182.7 518.3,182.7 517.3,182.7 516.3,182.8 515.3,182.8 514.3,182.8 513.3,182.8 512.3,182.9 511.3,182.9 510.3,182.9 509.3,182.9 508.3,183.0 507.3,183.0 506.3,183.1 505.3,183.2 505.2,183.7 504.2,183.8 503.2,183.9 502.2,183.9 501.2,184.0 500.2,184.0 499.2,184.1 498.2,184.1 497.2,184.2 496.2,184.2 495.2,184.3 494.2,184.3 493.1,184.3 492.1,184.4 491.1,184.4 490.1,184.5 489.1,184.5 488.1,184.6 487.1,184.6 486.1,184.6 485.1,184.7 484.1,184.7 483.1,184.8 482.1,184.8 481.1,184.8 480.1,184.9 479.1,184.9 478.1,185.0 477.1,185.0 476.1,185.0 475.1,185.1 474.1,185.1 473.1,185.1 472.1,185.2 471.1,185.2 470.1,185.2 469.1,185.3 468.1,185.3 467.1,185.3 466.1,185.4 465.1,185.4 464.1,185.5 463.1,185.5 462.1,185.5 461.1,185.6 460.1,185.6 459.1,185.6 458.1,185.7 457.0,185.7 456.0,185.7 455.0,185.8 454.0,185.8 453.0,185.8 452.0,185.9 451.0,185.9 450.0,185.9 449.0,186.0 448.0,186.0 447.0,186.0 446.0,186.1 445.0,186.1 444.0,186.2 443.0,186.2 442.0,186.3 441.0,186.3 440.0,186.4 439.0,186.5 438.0,186.5 437.0,186.6 436.0,186.7 435.0,186.8 434.0,186.9 433.0,187.0 432.0,187.1 431.0,187.2 430.0,187.3 429.0,187.4 428.0,187.5 427.0,187.6 426.0,187.7 425.0,187.8 424.0,187.9 423.0,188.0 422.0,188.1 421.0,188.2 420.0,188.3 419.0,188.4 418.0,188.5 417.0,188.6 416.0,188.7 415.0,188.8 414.0,188.9 413.0,189.0 412.0,189.1 411.0,189.2 410.0,189.3 409.0,189.4 408.0,189.5 407.0,189.6 406.0,189.7 405.0,189.7 404.0,189.8 403.0,189.9 402.0,190.0 401.0,190.0 400.0,190.1 399.0,190.1 398.0,190.2 397.0,190.2 396.0,190.3 395.0,190.3 394.0,190.4 393.0,190.4 392.0,190.4 391.0,190.5 390.0,190.5 389.0,190.5 388.0,190.6 387.0,190.6 386.0,190.6 404.0,190.6 405.0,190.6 406.0,190.5 407.0,190.5 408.0,190.4 409.0,190.4 410.0,190.3 411.0,190.3 412.0,190.2 413.0,190.2 414.0,190.1 415.0,190.1 416.0,190.0 417.1,190.0 418.1,189.9 419.1,189.9 420.1,189.8 421.1,189.7 422.1,189.7 423.1,189.6 424.1,189.5 425.1,189.5 426.1,189.4 427.1,189.3 428.1,189.3 429.1,189.2 430.1,189.1 431.1,189.1 432.1,189.0 433.1,188.9 434.1,188.9 435.1,188.8 436.1,188.7 437.1,188.7 438.1,188.6 439.1,188.6 440.1,188.5 441.1,188.4 442.1,188.4 443.1,188.3 444.1,188.2 445.1,188.2 446.1,188.1 447.1,188.1 448.1,188.0 449.1,187.9 450.1,187.9 451.2,187.8 452.2,187.8 453.2,187.7 454.2,187.7 455.2,187.6 456.2,187.6 457.2,187.5 458.2,187.5 459.2,187.4 460.2,187.4 461.2,187.3 462.2,187.3 463.2,187.3 464.2,187.2 465.2,187.2 466.2,187.1 467.2,187.1 468.2,187.0 469.2,187.0 470.2,187.0 471.2,186.9 472.2,186.9 473.2,186.8 474.2,186.8 475.2,186.8 476.3,186.7 477.3,186.7 478.3,186.6 479.3,186.6 480.3,186.6 481.3,186.5 482.3,186.5 483.3,186.5 484.3,186.4 485.3,186.4 486.3,186.4 487.3,186.3 488.3,186.3 489.3,186.3 490.3,186.2 491.3,186.2 492.3,186.2 493.3,186.2 494.3,186.2 495.3,186.1 496.3,186.1 497.3,186.1 498.4,186.1 499.4,186.1 500.4,186.1 501.4,186.2 502.4,186.2 503.4,186.2 504.4,186.2 505.4,186.2 506.4,186.2 507.4,186.2 508.4,186.2 509.4,186.2 510.4,186.2 511.4,186.2 512.4,186.2 513.4,186.1 514.4,185.7 515.3,185.5 516.3,185.3 517.3,185.3 518.3,185.2 519.3,185.2 520.3,185.2 521.3,185.1 522.3,185.1 523.3,185.1 524.3,185.0 525.3,185.0 526.3,185.0 527.3,185.0 528.4,184.9 529.4,184.9 530.4,184.9 531.4,184.9 532.4,184.8 533.4,184.8 534.4,184.8 535.4,184.8 536.4,184.8 537.4,184.7 538.4,184.7Z" fill="#f2e629"/></g>
<text x="367.30" y="42.59" transform="rotate(0 367.30 40.00)" text-anchor="middle" font-size="7.2" textLength="8.86" lengthAdjust="spacingAndGlyphs" class="cl">1.6</text><text x="449.20" y="81.09" transform="rotate(78 449.20 78.50)" text-anchor="middle" font-size="7.2" textLength="8.86" lengthAdjust="spacingAndGlyphs" class="cl">1.6</text><text x="396.60" y="156.59" transform="rotate(-48 396.60 154.00)" text-anchor="middle" font-size="7.2" textLength="8.86" lengthAdjust="spacingAndGlyphs" class="cl">1.6</text><text x="333.00" y="158.19" transform="rotate(57 333.00 155.60)" text-anchor="middle" font-size="7.2" textLength="8.86" lengthAdjust="spacingAndGlyphs" class="cl">1.6</text><text x="377.50" y="96.39" transform="rotate(3 377.50 93.80)" text-anchor="middle" font-size="7.2" textLength="8.86" lengthAdjust="spacingAndGlyphs" class="cl">1.5</text><text x="347.20" y="165.89" transform="rotate(68 347.20 163.30)" text-anchor="middle" font-size="7.2" textLength="8.86" lengthAdjust="spacingAndGlyphs" class="cl">1.5</text><text x="373.40" y="174.09" transform="rotate(-62 373.40 171.50)" text-anchor="middle" font-size="7.2" textLength="8.86" lengthAdjust="spacingAndGlyphs" class="cl">1.5</text><text x="486.40" y="46.59" transform="rotate(55 486.40 44.00)" text-anchor="middle" font-size="7.2" textLength="8.86" lengthAdjust="spacingAndGlyphs" class="cl">1.7</text><text x="458.60" y="122.59" transform="rotate(-35 458.60 120.00)" text-anchor="middle" font-size="7.2" textLength="8.86" lengthAdjust="spacingAndGlyphs" class="cl">1.7</text><text x="380.50" y="177.79" transform="rotate(-40 380.50 175.20)" text-anchor="middle" font-size="7.2" textLength="8.86" lengthAdjust="spacingAndGlyphs" class="cl">1.7</text><text x="332.00" y="166.79" transform="rotate(48 332.00 164.20)" text-anchor="middle" font-size="7.2" textLength="8.86" lengthAdjust="spacingAndGlyphs" class="cl">1.7</text><text x="536.00" y="67.59" transform="rotate(-90 536.00 65.00)" text-anchor="middle" font-size="7.2" textLength="8.86" lengthAdjust="spacingAndGlyphs" class="cl">1.8</text><text x="469.00" y="129.69" transform="rotate(-22 469.00 127.10)" text-anchor="middle" font-size="7.2" textLength="8.86" lengthAdjust="spacingAndGlyphs" class="cl">1.8</text><text x="386.00" y="177.19" transform="rotate(-35 386.00 174.60)" text-anchor="middle" font-size="7.2" textLength="8.86" lengthAdjust="spacingAndGlyphs" class="cl">1.8</text><text x="334.00" y="172.09" transform="rotate(42 334.00 169.50)" text-anchor="middle" font-size="7.2" textLength="8.86" lengthAdjust="spacingAndGlyphs" class="cl">1.8</text><text x="477.40" y="142.59" transform="rotate(0 477.40 140.00)" text-anchor="middle" font-size="7.2" textLength="3.53" lengthAdjust="spacingAndGlyphs" class="cl">2</text><text x="331.00" y="176.89" transform="rotate(0 331.00 174.30)" text-anchor="middle" font-size="7.2" textLength="3.53" lengthAdjust="spacingAndGlyphs" class="cl">2</text><text x="486.00" y="157.59" transform="rotate(-8 486.00 155.00)" text-anchor="middle" font-size="7.2" textLength="8.86" lengthAdjust="spacingAndGlyphs" class="cl">2.5</text><text x="394.00" y="182.79" transform="rotate(-25 394.00 180.20)" text-anchor="middle" font-size="7.2" textLength="8.86" lengthAdjust="spacingAndGlyphs" class="cl">2.5</text><text x="333.50" y="184.39" transform="rotate(28 333.50 181.80)" text-anchor="middle" font-size="7.2" textLength="8.86" lengthAdjust="spacingAndGlyphs" class="cl">2.5</text><text x="486.50" y="165.89" transform="rotate(0 486.50 163.30)" text-anchor="middle" font-size="7.2" textLength="3.53" lengthAdjust="spacingAndGlyphs" class="cl">3</text><text x="392.00" y="186.39" transform="rotate(0 392.00 183.80)" text-anchor="middle" font-size="7.2" textLength="3.53" lengthAdjust="spacingAndGlyphs" class="cl">3</text><text x="340.00" y="188.99" transform="rotate(25 340.00 186.40)" text-anchor="middle" font-size="7.2" textLength="3.53" lengthAdjust="spacingAndGlyphs" class="cl">3</text><text x="490.40" y="174.99" transform="rotate(0 490.40 172.40)" text-anchor="middle" font-size="7.2" textLength="3.53" lengthAdjust="spacingAndGlyphs" class="cl">4</text><text x="395.00" y="188.89" transform="rotate(0 395.00 186.30)" text-anchor="middle" font-size="7.2" textLength="3.53" lengthAdjust="spacingAndGlyphs" class="cl">4</text><text x="328.50" y="188.99" transform="rotate(20 328.50 186.40)" text-anchor="middle" font-size="7.2" textLength="3.53" lengthAdjust="spacingAndGlyphs" class="cl">4</text><text x="497.60" y="182.79" transform="rotate(0 497.60 180.20)" text-anchor="middle" font-size="7.2" textLength="3.53" lengthAdjust="spacingAndGlyphs" class="cl">6</text><text x="401.30" y="191.19" transform="rotate(0 401.30 188.60)" text-anchor="middle" font-size="7.2" textLength="3.53" lengthAdjust="spacingAndGlyphs" class="cl">6</text><text x="326.50" y="192.19" transform="rotate(10 326.50 189.60)" text-anchor="middle" font-size="7.2" textLength="3.53" lengthAdjust="spacingAndGlyphs" class="cl">6</text><text x="504.00" y="186.39" transform="rotate(0 504.00 183.80)" text-anchor="middle" font-size="7.2" textLength="3.53" lengthAdjust="spacingAndGlyphs" class="cl">8</text><text x="406.80" y="192.19" transform="rotate(0 406.80 189.60)" text-anchor="middle" font-size="7.2" textLength="3.53" lengthAdjust="spacingAndGlyphs" class="cl">8</text><text x="511.80" y="188.79" transform="rotate(0 511.80 186.20)" text-anchor="middle" font-size="7.2" textLength="7.06" lengthAdjust="spacingAndGlyphs" class="cl">10</text><text x="414.90" y="192.69" transform="rotate(0 414.90 190.10)" text-anchor="middle" font-size="7.2" textLength="7.06" lengthAdjust="spacingAndGlyphs" class="cl">10</text>
<g font-family="Liberation Sans, sans-serif" font-size="6.8" fill="#383838" stroke="#383838" stroke-width="0.18"><text x="336.84" y="201.20" text-anchor="middle" textLength="10.44" lengthAdjust="spacingAndGlyphs">500</text><text x="316.50" y="179.57" text-anchor="end" textLength="10.44" lengthAdjust="spacingAndGlyphs">500</text><text x="359.13" y="201.20" text-anchor="middle" textLength="15.65" lengthAdjust="spacingAndGlyphs">1,000</text><text x="316.50" y="161.99" text-anchor="end" textLength="15.65" lengthAdjust="spacingAndGlyphs">1,000</text><text x="381.43" y="201.20" text-anchor="middle" textLength="15.65" lengthAdjust="spacingAndGlyphs">1,500</text><text x="316.50" y="144.41" text-anchor="end" textLength="15.65" lengthAdjust="spacingAndGlyphs">1,500</text><text x="403.72" y="201.20" text-anchor="middle" textLength="15.65" lengthAdjust="spacingAndGlyphs">2,000</text><text x="316.50" y="126.82" text-anchor="end" textLength="15.65" lengthAdjust="spacingAndGlyphs">2,000</text><text x="426.02" y="201.20" text-anchor="middle" textLength="15.65" lengthAdjust="spacingAndGlyphs">2,500</text><text x="316.50" y="109.24" text-anchor="end" textLength="15.65" lengthAdjust="spacingAndGlyphs">2,500</text><text x="448.32" y="201.20" text-anchor="middle" textLength="15.65" lengthAdjust="spacingAndGlyphs">3,000</text><text x="316.50" y="91.66" text-anchor="end" textLength="15.65" lengthAdjust="spacingAndGlyphs">3,000</text><text x="470.61" y="201.20" text-anchor="middle" textLength="15.65" lengthAdjust="spacingAndGlyphs">3,500</text><text x="316.50" y="74.08" text-anchor="end" textLength="15.65" lengthAdjust="spacingAndGlyphs">3,500</text><text x="492.91" y="201.20" text-anchor="middle" textLength="15.65" lengthAdjust="spacingAndGlyphs">4,000</text><text x="316.50" y="56.50" text-anchor="end" textLength="15.65" lengthAdjust="spacingAndGlyphs">4,000</text><text x="515.20" y="201.20" text-anchor="middle" textLength="15.65" lengthAdjust="spacingAndGlyphs">4,500</text><text x="316.50" y="38.92" text-anchor="end" textLength="15.65" lengthAdjust="spacingAndGlyphs">4,500</text><text x="537.50" y="201.20" text-anchor="middle" textLength="15.65" lengthAdjust="spacingAndGlyphs">5,000</text><text x="316.50" y="21.33" text-anchor="end" textLength="15.65" lengthAdjust="spacingAndGlyphs">5,000</text></g>
<text x="430" y="13.9" font-family="Liberation Sans, sans-serif" font-size="7.6" fill="#2b2b2b" stroke="#2b2b2b" stroke-width="0.22" text-anchor="middle" textLength="196.9" lengthAdjust="spacingAndGlyphs">GDOP contour distribution in YOZ plane when X=0</text>
<text x="428.7" y="211.8" font-family="Liberation Sans, sans-serif" font-size="8.1" fill="#333" stroke="#333" stroke-width="0.15" text-anchor="middle">y/m</text>
<text transform="translate(296.6,104.8) rotate(-90)" font-family="Liberation Sans, sans-serif" font-size="8.1" fill="#333" stroke="#333" stroke-width="0.15" text-anchor="middle">z/m</text>
<text x="424.3" y="228.9" font-family="Liberation Serif, serif" font-weight="bold" font-size="12" fill="#222" text-anchor="middle">(b)</text>
<rect x="34.5" y="246.9" width="221.80" height="174.70" fill="none" stroke="#a8a8a8" stroke-width="0.9"/>
<path d="M52.61,421.6v-2.2M52.61,246.9v2.2M34.5,407.34h2.2M256.3,407.34h-2.2M75.24,421.6v-2.2M75.24,246.9v2.2M34.5,389.51h2.2M256.3,389.51h-2.2M97.87,421.6v-2.2M97.87,246.9v2.2M34.5,371.69h2.2M256.3,371.69h-2.2M120.50,421.6v-2.2M120.50,246.9v2.2M34.5,353.86h2.2M256.3,353.86h-2.2M143.14,421.6v-2.2M143.14,246.9v2.2M34.5,336.03h2.2M256.3,336.03h-2.2M165.77,421.6v-2.2M165.77,246.9v2.2M34.5,318.21h2.2M256.3,318.21h-2.2M188.40,421.6v-2.2M188.40,246.9v2.2M34.5,300.38h2.2M256.3,300.38h-2.2M211.03,421.6v-2.2M211.03,246.9v2.2M34.5,282.55h2.2M256.3,282.55h-2.2M233.67,421.6v-2.2M233.67,246.9v2.2M34.5,264.73h2.2M256.3,264.73h-2.2M256.30,421.6v-2.2M256.30,246.9v2.2M34.5,246.90h2.2M256.3,246.90h-2.2" stroke="#a8a8a8" stroke-width="0.8" fill="none"/>
<mask id="mC" maskUnits="userSpaceOnUse" x="0" y="0" width="550" height="463"><rect width="550" height="463" fill="#fff"/><rect x="113.57" y="284.86" width="14.46" height="6.48" transform="rotate(10 120.80 288.10)" fill="#000"/><rect x="116.67" y="347.06" width="14.46" height="6.48" transform="rotate(-25 123.90 350.30)" fill="#000"/><rect x="30.37" y="308.26" width="14.46" height="6.48" transform="rotate(90 37.60 311.50)" fill="#000"/><rect x="156.77" y="250.46" width="14.46" height="6.48" transform="rotate(22 164.00 253.70)" fill="#000"/><rect x="213.47" y="321.36" width="14.46" height="6.48" transform="rotate(-78 220.70 324.60)" fill="#000"/><rect x="126.97" y="361.96" width="14.46" height="6.48" transform="rotate(-15 134.20 365.20)" fill="#000"/><rect x="239.37" y="267.96" width="14.46" height="6.48" transform="rotate(58 246.60 271.20)" fill="#000"/><rect x="232.27" y="346.96" width="14.46" height="6.48" transform="rotate(-25 239.50 350.20)" fill="#000"/><rect x="136.37" y="368.76" width="14.46" height="6.48" transform="rotate(-12 143.60 372.00)" fill="#000"/><rect x="41.37" y="374.46" width="14.46" height="6.48" transform="rotate(15 48.60 377.70)" fill="#000"/><rect x="233.64" y="371.36" width="9.13" height="6.48" transform="rotate(0 238.20 374.60)" fill="#000"/><rect x="135.64" y="379.96" width="9.13" height="6.48" transform="rotate(0 140.20 383.20)" fill="#000"/><rect x="39.04" y="383.76" width="9.13" height="6.48" transform="rotate(0 43.60 387.00)" fill="#000"/><rect x="232.27" y="390.06" width="14.46" height="6.48" transform="rotate(0 239.50 393.30)" fill="#000"/><rect x="134.37" y="392.56" width="14.46" height="6.48" transform="rotate(-5 141.60 395.80)" fill="#000"/><rect x="234.34" y="397.86" width="9.13" height="6.48" transform="rotate(0 238.90 401.10)" fill="#000"/><rect x="136.84" y="398.86" width="9.13" height="6.48" transform="rotate(0 141.40 402.10)" fill="#000"/><rect x="38.54" y="401.76" width="9.13" height="6.48" transform="rotate(0 43.10 405.00)" fill="#000"/><rect x="234.84" y="404.96" width="9.13" height="6.48" transform="rotate(0 239.40 408.20)" fill="#000"/><rect x="136.84" y="405.56" width="9.13" height="6.48" transform="rotate(0 141.40 408.80)" fill="#000"/><rect x="38.54" y="407.76" width="9.13" height="6.48" transform="rotate(0 43.10 411.00)" fill="#000"/><rect x="234.84" y="411.16" width="9.13" height="6.48" transform="rotate(0 239.40 414.40)" fill="#000"/><rect x="136.84" y="411.56" width="9.13" height="6.48" transform="rotate(0 141.40 414.80)" fill="#000"/><rect x="38.54" y="412.96" width="9.13" height="6.48" transform="rotate(0 43.10 416.20)" fill="#000"/><rect x="228.94" y="414.57" width="4.73" height="4.46" transform="rotate(0 231.30 416.80)" fill="#000"/><rect x="129.24" y="415.37" width="4.73" height="4.46" transform="rotate(0 131.60 417.60)" fill="#000"/><rect x="50.54" y="416.67" width="4.73" height="4.46" transform="rotate(0 52.90 418.90)" fill="#000"/><rect x="236.97" y="417.17" width="8.26" height="4.46" transform="rotate(0 241.10 419.40)" fill="#000"/><rect x="138.97" y="417.17" width="8.26" height="4.46" transform="rotate(0 143.10 419.40)" fill="#000"/><rect x="41.17" y="417.97" width="8.26" height="4.46" transform="rotate(0 45.30 420.20)" fill="#000"/></mask>
<g mask="url(#mC)"><path d="M37.6,311.5 37.7,310.0 37.9,308.5 38.1,307.0 38.3,305.5 38.7,304.1 39.2,302.7 39.9,301.4 40.8,300.2 41.7,298.9 42.6,297.8 43.6,296.7 44.7,295.6 45.8,294.6 46.9,293.6 48.1,292.7 49.3,291.8 50.6,291.0 51.8,290.2 53.2,289.5 54.5,288.8 55.8,288.1 57.2,287.5 58.6,287.0 60.0,286.4 61.4,285.9 62.8,285.5 64.3,285.1 65.7,284.7 67.2,284.4 68.7,284.0 70.2,283.8 71.6,283.5 73.1,283.3 74.6,283.1 76.1,282.9 77.6,282.8 79.1,282.7 80.6,282.7 82.1,282.6 83.6,282.6 85.1,282.6 86.6,282.6 88.1,282.7 89.6,282.7 91.1,282.8 92.6,282.8 94.1,282.9 95.6,283.0 97.1,283.1 98.6,283.3 100.1,283.4 101.6,283.5 103.1,283.7 104.6,283.9 106.1,284.0 107.5,284.2 109.0,284.4 110.5,284.7 112.0,285.0 113.4,285.5 114.8,285.9 116.2,286.4 117.7,286.9 119.1,287.5 120.5,288.0 121.9,288.4 123.4,288.8 124.8,289.1 126.3,289.5 127.7,290.0 129.1,290.5 130.5,291.1 131.8,291.8 133.2,292.4 134.5,293.1 135.8,293.8 137.2,294.5 138.5,295.3 139.7,296.1 141.0,296.9 142.2,297.7 143.5,298.6 144.7,299.5 145.9,300.4 147.0,301.3 148.2,302.3 149.3,303.3 150.4,304.3 151.4,305.4 152.3,306.6 153.1,307.9 153.8,309.2 154.5,310.5 155.1,311.9 155.7,313.3 156.2,314.7 156.6,316.1 156.8,317.6 157.0,319.1 156.9,320.6 156.7,322.1 156.4,323.5 156.0,325.0 155.5,326.4 155.0,327.8 154.4,329.2 153.7,330.5 152.9,331.8 152.1,333.0 151.2,334.2 150.1,335.3 149.0,336.2 147.8,337.1 146.6,338.0 145.3,338.8 144.1,339.7 142.8,340.5 141.5,341.3 140.2,342.0 138.9,342.7 137.5,343.3 136.2,344.0 134.8,344.6 133.4,345.2 132.1,345.9 130.7,346.5 129.4,347.2 128.1,348.0 126.8,348.7 125.5,349.4 124.2,350.2 122.9,350.9 121.5,351.6 120.2,352.4 118.9,353.1 117.6,353.8 116.2,354.4 114.8,354.9 113.4,355.5 112.0,355.9 110.6,356.4 109.1,356.8 107.7,357.3 106.3,357.7 104.8,358.2 103.4,358.6 101.9,359.0 100.5,359.4 99.0,359.8 97.6,360.1 96.1,360.3 94.6,360.5 93.1,360.8 91.6,360.9 90.1,361.1 88.6,361.3 87.1,361.4 85.6,361.5 84.2,361.6 82.7,361.7 81.2,361.6 79.7,361.4 78.2,361.1 76.8,360.7 75.3,360.3 73.9,359.9 72.5,359.4 71.0,358.9 69.7,358.3 68.3,357.7 67.0,357.0 65.6,356.3 64.3,355.5 63.1,354.8 61.8,353.9 60.6,353.1 59.3,352.2 58.1,351.3 57.0,350.4 55.8,349.4 54.7,348.4 53.6,347.4 52.5,346.4 51.5,345.3 50.4,344.2 49.4,343.1 48.4,341.9 47.5,340.8 46.6,339.6 45.8,338.3 44.9,337.1 44.1,335.8 43.3,334.6 42.5,333.3 41.7,332.0 41.0,330.7 40.2,329.4 39.5,328.1 38.9,326.7 38.3,325.3 37.9,323.9 37.5,322.5 37.3,321.0 37.2,319.5 37.1,318.0 37.2,316.5 37.3,315.0 37.4,313.5 37.5,312.0Z" fill="none" stroke="#3b2b90" stroke-width="1.55" stroke-linecap="round" stroke-linejoin="round"/>
<path d="M149.1,246.9 150.5,247.4 151.9,247.9 153.3,248.4 154.7,249.0 156.1,249.5 157.5,250.2 158.8,250.9 160.1,251.6 161.4,252.3 162.8,253.0 164.1,253.7 165.5,254.3 166.8,254.9 168.2,255.5 169.6,256.1 171.0,256.7 172.3,257.3 173.7,258.0 175.0,258.6 176.4,259.3 177.7,260.0 179.0,260.7 180.3,261.4 181.6,262.2 182.9,263.0 184.2,263.8 185.4,264.7 186.6,265.5 187.8,266.4 189.1,267.3 190.3,268.2 191.5,269.1 192.7,270.0 193.9,270.9 195.0,271.8 196.2,272.8 197.3,273.7 198.5,274.7 199.6,275.7 200.8,276.6 201.9,277.6 203.1,278.6 204.2,279.5 205.4,280.5 206.5,281.5 207.5,282.6 208.5,283.7 209.4,284.9 210.3,286.1 211.2,287.3 212.1,288.6 212.9,289.8 213.7,291.1 214.5,292.3 215.3,293.6 216.1,294.9 216.8,296.2 217.6,297.5 218.2,298.9 218.9,300.2 219.4,301.6 220.0,303.0 220.4,304.4 220.9,305.9 221.3,307.3 221.6,308.8 222.0,310.2 222.3,311.7 222.5,313.2 222.6,314.7 222.6,316.2 222.5,317.7 222.3,319.1 222.0,320.6 221.6,322.0 221.1,323.5 220.5,324.9 219.9,326.2 219.2,327.5 218.4,328.8 217.6,330.0 216.7,331.2 215.7,332.4 214.7,333.5 213.7,334.6 212.6,335.7 211.5,336.7 210.4,337.6 209.1,338.5 207.9,339.3 206.7,340.2 205.4,340.9 204.0,341.6 202.7,342.3 201.3,342.9 199.9,343.5 198.6,344.1 197.1,344.6 195.7,345.1 194.3,345.6 192.9,346.1 191.5,346.5 190.0,347.0 188.6,347.4 187.2,347.9 185.7,348.3 184.3,348.8 182.9,349.2 181.5,349.7 180.0,350.1 178.6,350.6 177.2,351.1 175.7,351.5 174.3,351.9 172.9,352.4 171.4,352.8 170.0,353.3 168.6,353.7 167.1,354.1 165.7,354.6 164.2,355.0 162.8,355.5 161.4,355.9 159.9,356.3 158.5,356.8 157.1,357.2 155.6,357.7 154.2,358.1 152.8,358.6 151.4,359.1 149.9,359.6 148.5,360.1 147.1,360.6 145.7,361.1 144.3,361.6 142.9,362.1 141.5,362.6 140.1,363.1 138.7,363.7 137.2,364.2 135.8,364.7 134.4,365.1 133.0,365.5 131.5,365.9 130.1,366.3 128.6,366.7 127.2,367.1 125.7,367.5 124.3,367.9 122.8,368.3 121.4,368.7 120.0,369.1 118.5,369.6 117.1,370.0 115.6,370.4 114.2,370.8 112.7,371.2 111.3,371.6 109.8,372.0 108.4,372.4 106.9,372.8 105.5,373.1 104.0,373.5 102.6,373.9 101.1,374.2 99.7,374.5 98.2,374.9 96.7,375.1 95.2,375.4 93.7,375.6 92.3,375.8 90.8,376.1 89.3,376.3 87.8,376.5 86.3,376.6 84.8,376.8 83.3,376.9 81.9,376.8 80.4,376.6 78.9,376.3 77.4,376.0 76.0,375.8 74.5,375.5 73.0,375.2 71.6,374.8 70.1,374.5 68.6,374.1 67.2,373.7 65.8,373.3 64.3,372.8 62.9,372.4 61.5,371.9 60.1,371.4 58.7,370.8 57.3,370.3 55.9,369.7 54.5,369.1 53.2,368.4 51.8,367.8 50.5,367.1 49.1,366.4 47.8,365.7 46.5,365.0 45.2,364.3 43.8,363.6 42.5,362.9 41.2,362.3 39.8,361.6 38.5,360.9 37.2,360.2 35.8,359.5 34.5,358.8" fill="none" stroke="#3c2d95" stroke-width="1.55" stroke-linecap="round" stroke-linejoin="round"/>
<path d="M225.3,246.9 226.4,247.9 227.6,248.9 228.7,249.9 229.8,250.8 230.9,251.8 232.1,252.9 233.1,253.9 234.2,254.9 235.3,256.0 236.4,257.0 237.4,258.1 238.4,259.2 239.5,260.3 240.4,261.4 241.4,262.6 242.3,263.8 243.2,265.0 243.9,266.3 244.7,267.6 245.4,268.9 246.1,270.2 246.9,271.5 247.7,272.8 248.6,274.0 249.5,275.2 250.3,276.4 251.1,277.7 251.9,279.0 252.6,280.3 253.3,281.6 254.0,282.9 254.7,284.3 255.4,285.6 256.1,287.0" fill="none" stroke="#3d2f9a" stroke-width="1.55" stroke-linecap="round" stroke-linejoin="round"/>
<path d="M256.3,334.3 255.4,335.5 254.6,336.7 253.7,338.0 252.8,339.2 251.8,340.3 250.9,341.5 249.9,342.6 248.9,343.8 247.9,344.8 246.8,345.8 245.6,346.8 244.3,347.6 243.0,348.3 241.7,349.1 240.4,349.7 239.1,350.5 237.8,351.2 236.5,351.9 235.1,352.6 233.7,353.1 232.3,353.6 230.8,354.0 229.4,354.4 227.9,354.7 226.5,355.0 225.0,355.3 223.5,355.6 222.1,355.9 220.6,356.2 219.1,356.5 217.6,356.8 216.2,357.2 214.7,357.5 213.3,357.8 211.8,358.2 210.3,358.5 208.9,358.8 207.4,359.2 205.9,359.5 204.5,359.8 203.0,360.1 201.5,360.4 200.1,360.7 198.6,361.0 197.1,361.3 195.6,361.5 194.2,361.8 192.7,362.0 191.2,362.3 189.7,362.5 188.2,362.7 186.7,363.0 185.3,363.2 183.8,363.4 182.3,363.6 180.8,363.9 179.3,364.1 177.8,364.4 176.4,364.6 174.9,364.9 173.4,365.1 171.9,365.4 170.5,365.7 169.0,366.0 167.5,366.3 166.0,366.6 164.6,366.9 163.1,367.2 161.6,367.5 160.2,367.9 158.7,368.2 157.3,368.5 155.8,368.8 154.3,369.2 152.9,369.5 151.4,369.9 150.0,370.2 148.5,370.6 147.1,371.0 145.6,371.4 144.2,371.8 142.7,372.2 141.3,372.6 139.8,372.9 138.3,373.2 136.9,373.6 135.4,373.9 133.9,374.3 132.5,374.6 131.0,374.9 129.6,375.2 128.1,375.6 126.6,375.9 125.2,376.2 123.7,376.6 122.2,376.9 120.8,377.3 119.3,377.6 117.9,378.0 116.4,378.4 115.0,378.9 113.6,379.4 112.2,379.9 110.8,380.4 109.3,380.8 107.9,381.1 106.4,381.4 104.9,381.6 103.4,381.9 101.9,382.1 100.5,382.3 99.0,382.6 97.5,382.8 96.0,383.0 94.5,383.2 93.0,383.4 91.5,383.5 90.0,383.7 88.5,383.8 87.1,384.0 85.6,384.1 84.1,384.1 82.6,384.1 81.1,384.0 79.6,383.9 78.1,383.8 76.6,383.6 75.1,383.5 73.6,383.3 72.1,383.1 70.6,382.9 69.1,382.7 67.6,382.5 66.2,382.3 64.7,382.1 63.2,381.8 61.7,381.6 60.2,381.3 58.8,381.0 57.3,380.7 55.9,380.3 54.4,379.9 53.0,379.4 51.6,378.9 50.2,378.4 48.8,377.8 47.4,377.1 46.1,376.4 44.8,375.7 43.5,375.0 42.2,374.2 40.9,373.6 39.5,372.9 38.1,372.2 36.8,371.6 35.4,371.0" fill="none" stroke="#3d2f9a" stroke-width="1.55" stroke-linecap="round" stroke-linejoin="round"/>
<path d="M256.3,371.1 254.8,371.5 253.4,371.8 251.9,372.2 250.5,372.5 249.0,372.9 247.5,373.2 246.1,373.6 244.6,373.9 243.1,374.2 241.7,374.4 240.2,374.6 238.7,374.6 237.2,374.6 235.7,374.6 234.2,374.7 232.7,374.7 231.2,374.8 229.7,374.9 228.2,375.0 226.7,375.1 225.2,375.2 223.7,375.3 222.2,375.4 220.7,375.5 219.2,375.5 217.7,375.6 216.2,375.6 214.7,375.6 213.2,375.6 211.7,375.6 210.2,375.6 208.7,375.6 207.2,375.6 205.7,375.6 204.2,375.6 202.7,375.7 201.2,375.7 199.7,375.8 198.2,375.9 196.7,376.0 195.2,376.1 193.7,376.3 192.2,376.4 190.7,376.5 189.2,376.6 187.7,376.8 186.2,376.9 184.7,377.0 183.2,377.2 181.7,377.3 180.3,377.4 178.8,377.6 177.3,377.7 175.8,377.9 174.3,378.0 172.8,378.2 171.3,378.3 169.8,378.5 168.3,378.6 166.8,378.8 165.3,379.0 163.8,379.1 162.3,379.3 160.9,379.5 159.4,379.7 157.9,379.9 156.4,380.2 154.9,380.4 153.4,380.6 151.9,380.9 150.5,381.1 149.0,381.3 147.5,381.6 146.0,381.8 144.5,382.1 143.1,382.4 141.6,382.8 140.2,383.2 138.8,383.6 137.3,384.0 135.8,384.3 134.4,384.7 132.9,385.0 131.5,385.4 130.0,385.8 128.6,386.1 127.1,386.5 125.6,386.8 124.2,387.2 122.7,387.5 121.3,387.9 119.8,388.2 118.3,388.6 116.9,388.9 115.4,389.2 113.9,389.5 112.5,389.8 111.0,390.1 109.5,390.3 108.0,390.6 106.5,390.8 105.0,391.0 103.6,391.1 102.1,391.3 100.6,391.4 99.1,391.6 97.6,391.7 96.1,391.8 94.6,391.9 93.1,392.0 91.6,392.1 90.1,392.2 88.6,392.4 87.1,392.5 85.6,392.6 84.1,392.8 82.6,392.9 81.1,393.0 79.6,393.0 78.1,392.9 76.6,392.9 75.1,392.8 73.6,392.6 72.1,392.5 70.6,392.4 69.2,392.2 67.7,392.0 66.2,391.9 64.7,391.7 63.2,391.5 61.7,391.2 60.2,391.0 58.8,390.7 57.3,390.4 55.8,390.1 54.4,389.8 52.9,389.4 51.4,389.1 50.0,388.8 48.5,388.4 47.0,388.1 45.6,387.7 44.2,387.2 42.8,386.6 41.5,385.9 40.1,385.2 38.8,384.6 37.4,384.1 35.9,383.7 34.5,383.2" fill="none" stroke="#3f33a5" stroke-width="1.55" stroke-linecap="round" stroke-linejoin="round"/>
<path d="M256.3,392.4 254.8,392.5 253.3,392.7 251.8,392.8 250.3,392.9 248.8,393.0 247.3,393.1 245.8,393.2 244.3,393.2 242.8,393.3 241.3,393.3 239.8,393.3 238.3,393.3 236.8,393.2 235.3,393.1 233.8,393.0 232.3,393.0 230.8,392.9 229.3,392.8 227.8,392.8 226.3,392.8 224.8,392.7 223.3,392.7 221.8,392.7 220.3,392.6 218.8,392.6 217.3,392.5 215.8,392.4 214.3,392.3 212.8,392.2 211.3,392.1 209.8,392.0 208.3,391.9 206.8,391.8 205.3,391.7 203.8,391.7 202.3,391.6 200.8,391.6 199.3,391.6 197.8,391.6 196.3,391.6 194.8,391.6 193.3,391.6 191.8,391.6 190.3,391.6 188.8,391.7 187.3,391.7 185.8,391.7 184.3,391.8 182.8,391.8 181.3,391.8 179.8,391.9 178.3,391.9 176.8,392.0 175.3,392.1 173.8,392.1 172.3,392.2 170.8,392.3 169.3,392.4 167.8,392.5 166.3,392.7 164.8,392.8 163.3,392.9 161.8,393.1 160.3,393.2 158.9,393.4 157.4,393.5 155.9,393.7 154.4,393.9 152.9,394.0 151.4,394.2 149.9,394.4 148.4,394.6 146.9,394.8 145.5,395.1 144.0,395.3 142.5,395.6 141.0,395.8 139.5,396.0 138.0,396.2 136.6,396.4 135.1,396.6 133.6,396.8 132.1,397.1 130.6,397.4 129.2,397.7 127.7,398.0 126.2,398.2 124.7,398.5 123.3,398.8 121.8,399.1 120.3,399.4 118.8,399.7 117.4,399.9 115.9,400.2 114.4,400.5 112.9,400.7 111.4,401.0 110.0,401.2 108.5,401.4 107.0,401.6 105.5,401.7 104.0,401.9 102.5,402.0 101.0,402.2 99.5,402.3 98.0,402.4 96.5,402.6 95.0,402.7 93.5,402.8 92.0,402.9 90.5,403.0 89.0,403.0 87.5,403.1 86.0,403.2 84.5,403.2 83.0,403.1 81.5,403.0 80.0,402.9 78.5,402.8 77.0,402.7 75.5,402.6 74.0,402.5 72.5,402.4 71.0,402.3 69.6,402.3 68.1,402.1 66.6,402.0 65.1,401.9 63.6,401.8 62.1,401.6 60.6,401.5 59.1,401.3 57.6,401.1 56.1,400.9 54.6,400.7 53.1,400.5 51.6,400.3 50.2,400.1 48.7,399.9 47.2,399.6 45.7,399.4 44.2,399.1 42.8,398.8 41.3,398.4 39.8,398.1 38.4,397.8 36.9,397.4 35.5,397.0" fill="none" stroke="#4540bd" stroke-width="1.55" stroke-linecap="round" stroke-linejoin="round"/>
<path d="M256.3,400.5 254.8,400.6 253.3,400.7 251.8,400.7 250.3,400.8 248.8,400.9 247.3,400.9 245.8,401.0 244.3,401.1 242.8,401.1 241.3,401.1 239.9,401.1 238.7,400.8 237.5,400.6 236.1,400.4 234.6,400.3 233.1,400.2 231.6,400.1 230.1,400.0 228.6,399.9 227.1,399.8 225.6,399.8 224.1,399.7 222.6,399.6 221.1,399.5 219.6,399.4 218.1,399.4 216.6,399.3 215.1,399.2 213.6,399.2 212.1,399.1 210.6,399.0 209.1,399.0 207.6,398.9 206.1,398.9 204.6,398.8 203.1,398.8 201.6,398.7 200.1,398.7 198.6,398.7 197.1,398.7 195.6,398.7 194.1,398.7 192.6,398.7 191.1,398.7 189.6,398.7 188.1,398.7 186.6,398.7 185.1,398.8 183.6,398.8 182.1,398.9 180.6,398.9 179.1,399.0 177.6,399.1 176.1,399.1 174.6,399.2 173.1,399.3 171.6,399.4 170.1,399.5 168.7,399.5 167.2,399.7 165.7,399.8 164.2,399.9 162.7,400.0 161.2,400.1 159.7,400.2 158.2,400.4 156.7,400.5 155.2,400.6 153.7,400.8 152.2,400.9 150.7,401.1 149.2,401.2 147.7,401.3 146.2,401.5 144.7,401.6 143.3,401.8 141.8,402.0 140.3,402.1 138.8,402.2 137.3,402.4 135.8,402.5 134.3,402.7 132.8,402.9 131.3,403.1 129.9,403.4 128.4,403.6 126.9,403.8 125.4,404.0 123.9,404.2 122.4,404.4 121.0,404.7 119.5,404.9 118.0,405.1 116.5,405.3 115.0,405.5 113.5,405.7 112.0,405.8 110.5,406.0 109.1,406.2 107.6,406.3 106.1,406.5 104.6,406.6 103.1,406.8 101.6,406.9 100.1,407.0 98.6,407.2 97.1,407.3 95.6,407.4 94.1,407.4 92.6,407.5 91.1,407.6 89.6,407.6 88.1,407.7 86.6,407.7 85.1,407.8 83.6,407.8 82.1,407.8 80.6,407.8 79.1,407.8 77.6,407.8 76.1,407.8 74.6,407.8 73.1,407.7 71.6,407.7 70.1,407.7 68.6,407.6 67.1,407.6 65.6,407.5 64.1,407.5 62.6,407.4 61.1,407.3 59.6,407.2 58.1,407.0 56.6,406.8 55.2,406.6 53.7,406.4 52.2,406.2 50.7,405.9 49.2,405.7 47.7,405.5 46.3,405.3 44.8,405.2 43.3,405.0 41.8,404.6 40.4,404.2 38.9,403.9 37.5,403.6 36.0,403.3 34.5,403.1" fill="none" stroke="#4350cc" stroke-width="1.55" stroke-linecap="round" stroke-linejoin="round"/>
<path d="M256.3,407.9 254.8,408.0 253.3,408.0 251.8,408.1 250.3,408.2 248.8,408.2 247.3,408.3 245.8,408.3 244.3,408.4 242.8,408.4 241.3,408.3 239.9,408.3 238.5,408.2 237.1,408.2 235.6,408.1 234.1,408.0 232.6,408.0 231.1,407.9 229.6,407.8 228.1,407.7 226.6,407.6 225.1,407.6 223.6,407.5 222.1,407.4 220.6,407.3 219.1,407.2 217.6,407.1 216.1,407.1 214.6,407.0 213.1,406.9 211.6,406.8 210.1,406.8 208.6,406.7 207.1,406.6 205.6,406.6 204.1,406.5 202.6,406.5 201.1,406.4 199.6,406.4 198.1,406.4 196.6,406.4 195.1,406.3 193.5,406.3 192.0,406.4 190.5,406.4 189.0,406.4 187.5,406.4 186.0,406.5 184.5,406.5 183.0,406.5 181.5,406.6 180.0,406.6 178.5,406.7 177.0,406.7 175.5,406.8 174.0,406.9 172.5,406.9 171.0,407.0 169.5,407.0 168.0,407.1 166.5,407.2 165.0,407.2 163.5,407.3 162.0,407.4 160.5,407.5 159.0,407.5 157.5,407.6 156.0,407.7 154.5,407.8 153.0,407.9 151.5,408.0 150.0,408.1 148.5,408.1 147.0,408.2 145.5,408.3 144.0,408.5 142.6,408.6 141.4,408.8 140.1,409.0 138.8,409.2 137.3,409.3 135.8,409.4 134.3,409.5 132.8,409.7 131.3,409.8 129.8,409.9 128.3,410.0 126.8,410.2 125.3,410.3 123.8,410.4 122.3,410.5 120.8,410.6 119.3,410.8 117.8,410.9 116.3,411.0 114.8,411.1 113.3,411.3 111.8,411.4 110.3,411.5 108.8,411.6 107.3,411.7 105.8,411.8 104.3,412.0 102.8,412.1 101.3,412.2 99.8,412.3 98.3,412.4 96.8,412.5 95.4,412.6 93.9,412.7 92.4,412.8 90.9,412.9 89.4,412.9 87.8,413.0 86.3,413.1 84.8,413.1 83.3,413.1 81.8,413.2 80.3,413.2 78.8,413.2 77.3,413.2 75.8,413.2 74.3,413.1 72.8,413.1 71.3,413.0 69.8,412.9 68.3,412.9 66.8,412.8 65.3,412.7 63.8,412.6 62.3,412.6 60.8,412.5 59.3,412.4 57.8,412.3 56.3,412.2 54.8,412.1 53.3,412.0 51.8,411.9 50.3,411.7 48.8,411.6 47.3,411.4 45.8,411.3 44.4,411.1 42.9,410.9 41.4,410.6 39.9,410.3 38.5,410.0 37.0,409.7 35.5,409.5" fill="none" stroke="#3078d6" stroke-width="1.55" stroke-linecap="round" stroke-linejoin="round"/>
<path d="M256.3,414.4 254.8,414.4 253.3,414.5 251.8,414.5 250.3,414.6 248.8,414.6 247.3,414.7 245.8,414.7 244.3,414.7 242.8,414.6 241.3,414.5 239.9,414.5 238.5,414.5 237.1,414.5 235.6,414.4 234.1,414.4 232.6,414.3 231.1,414.2 229.6,414.2 228.1,414.1 226.6,414.0 225.1,413.9 223.6,413.9 222.1,413.8 220.6,413.7 219.1,413.6 217.6,413.6 216.1,413.5 214.6,413.4 213.1,413.4 211.6,413.3 210.1,413.2 208.7,413.2 207.2,413.1 205.7,413.1 204.2,413.0 202.7,413.0 201.2,412.9 199.7,412.9 198.2,412.9 196.7,412.8 195.2,412.8 193.7,412.8 192.2,412.8 190.7,412.8 189.2,412.8 187.7,412.8 186.2,412.8 184.7,412.9 183.2,412.9 181.7,412.9 180.2,412.9 178.7,413.0 177.2,413.0 175.7,413.0 174.2,413.1 172.7,413.1 171.2,413.1 169.7,413.2 168.2,413.2 166.7,413.3 165.2,413.3 163.7,413.4 162.2,413.5 160.7,413.5 159.2,413.6 157.7,413.6 156.2,413.7 154.7,413.8 153.2,413.8 151.7,413.9 150.2,414.0 148.7,414.1 147.2,414.1 145.7,414.2 144.2,414.4 142.8,414.5 141.5,414.7 140.3,414.8 138.9,414.9 137.5,414.9 136.0,415.0 134.5,415.1 133.0,415.1 131.5,415.2 130.0,415.3 128.5,415.3 127.0,415.4 125.5,415.5 124.0,415.6 122.5,415.6 121.0,415.7 119.5,415.8 118.0,415.9 116.5,415.9 115.0,416.0 113.5,416.1 112.0,416.1 110.5,416.2 109.0,416.3 107.5,416.3 106.0,416.4 104.5,416.5 103.0,416.5 101.5,416.6 100.0,416.6 98.5,416.7 97.0,416.7 95.5,416.8 94.0,416.8 92.5,416.9 91.0,416.9 89.5,417.0 88.0,417.0 86.5,417.0 85.0,417.0 83.5,417.1 82.0,417.1 80.5,417.1 79.0,417.1 77.5,417.1 76.0,417.1 74.5,417.1 73.0,417.0 71.5,417.0 70.0,417.0 68.5,417.0 67.0,417.0 65.5,417.0 64.0,416.9 62.5,416.9 61.0,416.9 59.5,416.8 58.0,416.8 56.5,416.8 55.0,416.7 53.5,416.7 52.0,416.7 50.5,416.7 49.0,416.6 47.5,416.6 46.0,416.5 44.6,416.5 43.3,416.3 41.9,416.0 40.5,415.8 39.0,415.6 37.5,415.4 36.0,415.2 34.5,415.1" fill="none" stroke="#26ae9e" stroke-width="1.55" stroke-linecap="round" stroke-linejoin="round"/>
<path d="M256.3,416.5 254.8,416.5 253.3,416.6 251.8,416.6 250.3,416.6 248.8,416.7 247.3,416.7 245.8,416.7 244.3,416.7 242.8,416.8 241.3,416.8 239.8,416.8 238.3,416.8 236.8,416.9 235.3,416.9 233.8,416.9 232.3,416.9 230.8,416.9 229.3,416.9 227.8,416.9 226.3,416.9 224.8,416.9 223.3,416.8 221.8,416.8 220.2,416.8 218.7,416.8 217.2,416.7 215.7,416.7 214.2,416.7 212.7,416.7 211.2,416.6 209.7,416.6 208.2,416.6 206.7,416.6 205.2,416.6 203.7,416.6 202.2,416.6 200.7,416.6 199.2,416.6 197.7,416.6 196.2,416.6 194.7,416.6 193.2,416.6 191.7,416.7 190.2,416.7 188.7,416.7 187.2,416.7 185.7,416.7 184.2,416.7 182.7,416.8 181.2,416.8 179.7,416.8 178.2,416.8 176.7,416.8 175.2,416.9 173.7,416.9 172.2,416.9 170.7,416.9 169.2,416.9 167.7,417.0 166.2,417.0 164.7,417.0 163.2,417.0 161.7,417.0 160.2,417.1 158.7,417.1 157.2,417.1 155.7,417.1 154.2,417.2 152.7,417.2 151.1,417.2 149.6,417.2 148.1,417.3 146.6,417.3 145.1,417.3 143.6,417.4 142.1,417.4 140.6,417.5 139.1,417.5 137.6,417.6 136.1,417.7 134.6,417.8 133.1,417.9 131.6,417.9 130.1,417.9 128.6,418.0 127.1,418.0 125.6,418.0 124.1,418.0 122.6,418.1 121.1,418.1 119.6,418.1 118.1,418.1 116.6,418.2 115.1,418.2 113.6,418.2 112.1,418.2 110.6,418.2 109.1,418.3 107.6,418.3 106.1,418.3 104.6,418.3 103.1,418.3 101.6,418.4 100.1,418.4 98.6,418.4 97.1,418.4 95.6,418.4 94.1,418.5 92.6,418.5 91.1,418.5 89.6,418.5 88.1,418.5 86.6,418.5 85.1,418.6 83.6,418.6 82.1,418.6 80.6,418.6 79.1,418.6 77.6,418.6 76.1,418.7 74.6,418.7 73.1,418.7 71.5,418.7 70.0,418.7 68.5,418.7 67.0,418.7 65.5,418.8 64.0,418.8 62.5,418.8 61.0,418.8 59.5,418.8 58.0,418.8 56.5,418.8 55.0,418.8 53.5,418.8 52.0,418.8 50.5,418.8 49.0,418.8 47.5,418.7 46.0,418.7 44.5,418.7 43.0,418.6 41.5,418.6 40.0,418.5 38.5,418.5 37.0,418.4 35.5,418.3" fill="none" stroke="#d2b940" stroke-width="1.3" stroke-linecap="round" stroke-linejoin="round"/>
<path d="M34.5,418.8 L256.3,417.1 L256.3,420.4 L34.5,420.9Z" fill="#f2e629"/></g>
<text x="120.80" y="290.69" transform="rotate(10 120.80 288.10)" text-anchor="middle" font-size="7.2" textLength="8.86" lengthAdjust="spacingAndGlyphs" class="cl">1.6</text><text x="123.90" y="352.89" transform="rotate(-25 123.90 350.30)" text-anchor="middle" font-size="7.2" textLength="8.86" lengthAdjust="spacingAndGlyphs" class="cl">1.6</text><text x="37.60" y="314.09" transform="rotate(90 37.60 311.50)" text-anchor="middle" font-size="7.2" textLength="8.86" lengthAdjust="spacingAndGlyphs" class="cl">1.6</text><text x="164.00" y="256.29" transform="rotate(22 164.00 253.70)" text-anchor="middle" font-size="7.2" textLength="8.86" lengthAdjust="spacingAndGlyphs" class="cl">1.7</text><text x="220.70" y="327.19" transform="rotate(-78 220.70 324.60)" text-anchor="middle" font-size="7.2" textLength="8.86" lengthAdjust="spacingAndGlyphs" class="cl">1.7</text><text x="134.20" y="367.79" transform="rotate(-15 134.20 365.20)" text-anchor="middle" font-size="7.2" textLength="8.86" lengthAdjust="spacingAndGlyphs" class="cl">1.7</text><text x="246.60" y="273.79" transform="rotate(58 246.60 271.20)" text-anchor="middle" font-size="7.2" textLength="8.86" lengthAdjust="spacingAndGlyphs" class="cl">1.8</text><text x="239.50" y="352.79" transform="rotate(-25 239.50 350.20)" text-anchor="middle" font-size="7.2" textLength="8.86" lengthAdjust="spacingAndGlyphs" class="cl">1.8</text><text x="143.60" y="374.59" transform="rotate(-12 143.60 372.00)" text-anchor="middle" font-size="7.2" textLength="8.86" lengthAdjust="spacingAndGlyphs" class="cl">1.8</text><text x="48.60" y="380.29" transform="rotate(15 48.60 377.70)" text-anchor="middle" font-size="7.2" textLength="8.86" lengthAdjust="spacingAndGlyphs" class="cl">1.8</text><text x="238.20" y="377.19" transform="rotate(0 238.20 374.60)" text-anchor="middle" font-size="7.2" textLength="3.53" lengthAdjust="spacingAndGlyphs" class="cl">2</text><text x="140.20" y="385.79" transform="rotate(0 140.20 383.20)" text-anchor="middle" font-size="7.2" textLength="3.53" lengthAdjust="spacingAndGlyphs" class="cl">2</text><text x="43.60" y="389.59" transform="rotate(0 43.60 387.00)" text-anchor="middle" font-size="7.2" textLength="3.53" lengthAdjust="spacingAndGlyphs" class="cl">2</text><text x="239.50" y="395.89" transform="rotate(0 239.50 393.30)" text-anchor="middle" font-size="7.2" textLength="8.86" lengthAdjust="spacingAndGlyphs" class="cl">2.5</text><text x="141.60" y="398.39" transform="rotate(-5 141.60 395.80)" text-anchor="middle" font-size="7.2" textLength="8.86" lengthAdjust="spacingAndGlyphs" class="cl">2.5</text><text x="238.90" y="403.69" transform="rotate(0 238.90 401.10)" text-anchor="middle" font-size="7.2" textLength="3.53" lengthAdjust="spacingAndGlyphs" class="cl">3</text><text x="141.40" y="404.69" transform="rotate(0 141.40 402.10)" text-anchor="middle" font-size="7.2" textLength="3.53" lengthAdjust="spacingAndGlyphs" class="cl">3</text><text x="43.10" y="407.59" transform="rotate(0 43.10 405.00)" text-anchor="middle" font-size="7.2" textLength="3.53" lengthAdjust="spacingAndGlyphs" class="cl">3</text><text x="239.40" y="410.79" transform="rotate(0 239.40 408.20)" text-anchor="middle" font-size="7.2" textLength="3.53" lengthAdjust="spacingAndGlyphs" class="cl">4</text><text x="141.40" y="411.39" transform="rotate(0 141.40 408.80)" text-anchor="middle" font-size="7.2" textLength="3.53" lengthAdjust="spacingAndGlyphs" class="cl">4</text><text x="43.10" y="413.59" transform="rotate(0 43.10 411.00)" text-anchor="middle" font-size="7.2" textLength="3.53" lengthAdjust="spacingAndGlyphs" class="cl">4</text><text x="239.40" y="416.99" transform="rotate(0 239.40 414.40)" text-anchor="middle" font-size="7.2" textLength="3.53" lengthAdjust="spacingAndGlyphs" class="cl">6</text><text x="141.40" y="417.39" transform="rotate(0 141.40 414.80)" text-anchor="middle" font-size="7.2" textLength="3.53" lengthAdjust="spacingAndGlyphs" class="cl">6</text><text x="43.10" y="418.79" transform="rotate(0 43.10 416.20)" text-anchor="middle" font-size="7.2" textLength="3.53" lengthAdjust="spacingAndGlyphs" class="cl">6</text><text x="231.30" y="419.39" transform="rotate(0 231.30 416.80)" text-anchor="middle" font-size="7.2" textLength="3.53" lengthAdjust="spacingAndGlyphs" class="cl">8</text><text x="131.60" y="420.19" transform="rotate(0 131.60 417.60)" text-anchor="middle" font-size="7.2" textLength="3.53" lengthAdjust="spacingAndGlyphs" class="cl">8</text><text x="52.90" y="421.49" transform="rotate(0 52.90 418.90)" text-anchor="middle" font-size="7.2" textLength="3.53" lengthAdjust="spacingAndGlyphs" class="cl">8</text><text x="241.10" y="421.99" transform="rotate(0 241.10 419.40)" text-anchor="middle" font-size="7.2" textLength="7.06" lengthAdjust="spacingAndGlyphs" class="cl">10</text><text x="143.10" y="421.99" transform="rotate(0 143.10 419.40)" text-anchor="middle" font-size="7.2" textLength="7.06" lengthAdjust="spacingAndGlyphs" class="cl">10</text><text x="45.30" y="422.79" transform="rotate(0 45.30 420.20)" text-anchor="middle" font-size="7.2" textLength="7.06" lengthAdjust="spacingAndGlyphs" class="cl">10</text>
<g font-family="Liberation Sans, sans-serif" font-size="7.1" fill="#383838" stroke="#383838" stroke-width="0.18"><text x="51.61" y="431.80" text-anchor="middle" textLength="10.90" lengthAdjust="spacingAndGlyphs">500</text><text x="30.80" y="409.88" text-anchor="end" textLength="10.90" lengthAdjust="spacingAndGlyphs">500</text><text x="74.24" y="431.80" text-anchor="middle" textLength="16.34" lengthAdjust="spacingAndGlyphs">1,000</text><text x="30.80" y="392.05" text-anchor="end" textLength="16.34" lengthAdjust="spacingAndGlyphs">1,000</text><text x="96.87" y="431.80" text-anchor="middle" textLength="16.34" lengthAdjust="spacingAndGlyphs">1,500</text><text x="30.80" y="374.23" text-anchor="end" textLength="16.34" lengthAdjust="spacingAndGlyphs">1,500</text><text x="119.50" y="431.80" text-anchor="middle" textLength="16.34" lengthAdjust="spacingAndGlyphs">2,000</text><text x="30.80" y="356.40" text-anchor="end" textLength="16.34" lengthAdjust="spacingAndGlyphs">2,000</text><text x="142.14" y="431.80" text-anchor="middle" textLength="16.34" lengthAdjust="spacingAndGlyphs">2,500</text><text x="30.80" y="338.57" text-anchor="end" textLength="16.34" lengthAdjust="spacingAndGlyphs">2,500</text><text x="164.77" y="431.80" text-anchor="middle" textLength="16.34" lengthAdjust="spacingAndGlyphs">3,000</text><text x="30.80" y="320.75" text-anchor="end" textLength="16.34" lengthAdjust="spacingAndGlyphs">3,000</text><text x="187.40" y="431.80" text-anchor="middle" textLength="16.34" lengthAdjust="spacingAndGlyphs">3,500</text><text x="30.80" y="302.92" text-anchor="end" textLength="16.34" lengthAdjust="spacingAndGlyphs">3,500</text><text x="210.03" y="431.80" text-anchor="middle" textLength="16.34" lengthAdjust="spacingAndGlyphs">4,000</text><text x="30.80" y="285.09" text-anchor="end" textLength="16.34" lengthAdjust="spacingAndGlyphs">4,000</text><text x="232.67" y="431.80" text-anchor="middle" textLength="16.34" lengthAdjust="spacingAndGlyphs">4,500</text><text x="30.80" y="267.27" text-anchor="end" textLength="16.34" lengthAdjust="spacingAndGlyphs">4,500</text><text x="255.30" y="431.80" text-anchor="middle" textLength="16.34" lengthAdjust="spacingAndGlyphs">5,000</text><text x="30.80" y="249.44" text-anchor="end" textLength="16.34" lengthAdjust="spacingAndGlyphs">5,000</text></g>
<text x="145.4" y="242.4" font-family="Liberation Sans, sans-serif" font-size="7.2" fill="#2b2b2b" stroke="#2b2b2b" stroke-width="0.22" text-anchor="middle" textLength="186.6" lengthAdjust="spacingAndGlyphs">GDOP contour distribution in YOZ plane when X=1000</text>
<text x="144.7" y="441.8" font-family="Liberation Sans, sans-serif" font-size="8.3" fill="#333" stroke="#333" stroke-width="0.15" text-anchor="middle">y/m</text>
<text transform="translate(10.8,331.6) rotate(-90)" font-family="Liberation Sans, sans-serif" font-size="8.1" fill="#333" stroke="#333" stroke-width="0.15" text-anchor="middle">z/m</text>
<text x="140.2" y="457.5" font-family="Liberation Serif, serif" font-weight="bold" font-size="12" fill="#222" text-anchor="middle">(c)</text>
</svg></body></html>
